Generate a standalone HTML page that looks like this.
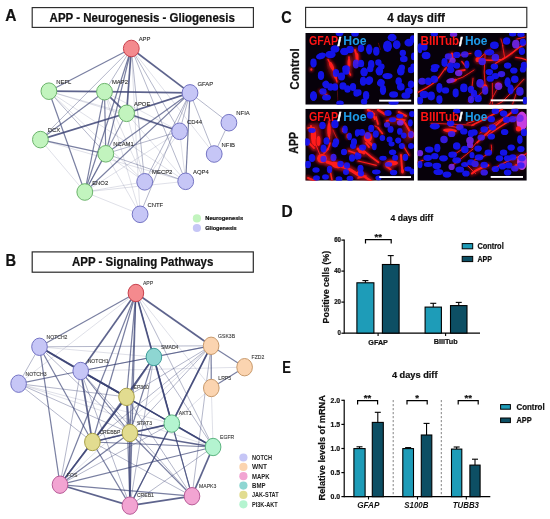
<!DOCTYPE html><html><head><meta charset="utf-8"><title>APP figure</title><style>html,body{margin:0;padding:0;background:#fff;}svg{display:block;}.bt{stroke:#111;stroke-width:0.22px;}</style></head><body>
<svg width="550" height="519" viewBox="0 0 550 519" font-family="'Liberation Sans', Arial, sans-serif">
<defs><filter id="bl" x="-5%" y="-5%" width="110%" height="110%"><feGaussianBlur stdDeviation="0.6"/></filter><filter id="glow" x="-10%" y="-10%" width="120%" height="120%"><feGaussianBlur stdDeviation="1.3"/></filter><filter id="haze" x="-20%" y="-20%" width="140%" height="140%"><feGaussianBlur stdDeviation="2.2"/></filter></defs>
<rect width="550" height="519" fill="#fff"/>
<text x="5.2" y="21.1" font-size="16" font-weight="bold" fill="#111" class="bt" textLength="11.2" lengthAdjust="spacingAndGlyphs">A</text>
<text x="5.6" y="265.7" font-size="16" font-weight="bold" fill="#111" class="bt" textLength="10.6" lengthAdjust="spacingAndGlyphs">B</text>
<text x="281.2" y="22.6" font-size="16.9" font-weight="bold" fill="#111" class="bt" textLength="10.4" lengthAdjust="spacingAndGlyphs">C</text>
<text x="281.4" y="217.2" font-size="16" font-weight="bold" fill="#111" class="bt" textLength="11.2" lengthAdjust="spacingAndGlyphs">D</text>
<text x="282.3" y="372.9" font-size="16" font-weight="bold" fill="#111" class="bt" textLength="8.6" lengthAdjust="spacingAndGlyphs">E</text>
<rect x="32.2" y="7.6" width="221.2" height="19.8" fill="#fff" stroke="#2a2a2a" stroke-width="1.15"/>
<text x="49.6" y="21.6" font-size="11.9" font-weight="bold" fill="#111" class="bt" stroke="#111" stroke-width="0.3" textLength="185.2" lengthAdjust="spacingAndGlyphs">APP - Neurogenesis - Gliogenesis</text>
<rect x="32.2" y="251.9" width="221.1" height="20.3" fill="#fff" stroke="#2a2a2a" stroke-width="1.2"/>
<text x="72" y="265.8" font-size="11.9" font-weight="bold" fill="#111" class="bt" stroke="#111" stroke-width="0.3" textLength="141.3" lengthAdjust="spacingAndGlyphs">APP - Signaling Pathways</text>
<rect x="305.6" y="7.4" width="221.2" height="20.1" fill="#fff" stroke="#2a2a2a" stroke-width="1.15"/>
<text x="387.2" y="21.8" font-size="12.2" font-weight="bold" fill="#111" class="bt" stroke="#111" stroke-width="0.3" textLength="57.8" lengthAdjust="spacingAndGlyphs">4 days diff</text>
<line x1="131.3" y1="48.5" x2="48.9" y2="91.2" stroke="#3a4274" stroke-width="1.2" stroke-opacity="0.68"/>
<line x1="131.3" y1="48.5" x2="104.5" y2="91.7" stroke="#3a4274" stroke-width="0.8" stroke-opacity="0.48"/>
<line x1="131.3" y1="48.5" x2="126.6" y2="113.3" stroke="#3a4274" stroke-width="1.7" stroke-opacity="0.82"/>
<line x1="131.3" y1="48.5" x2="190.0" y2="92.9" stroke="#3a4274" stroke-width="1.7" stroke-opacity="0.82"/>
<line x1="131.3" y1="48.5" x2="40.4" y2="139.6" stroke="#3a4274" stroke-width="0.8" stroke-opacity="0.48"/>
<line x1="131.3" y1="48.5" x2="105.8" y2="153.8" stroke="#3a4274" stroke-width="1.2" stroke-opacity="0.68"/>
<line x1="131.3" y1="48.5" x2="84.8" y2="192.0" stroke="#3a4274" stroke-width="1.2" stroke-opacity="0.68"/>
<line x1="131.3" y1="48.5" x2="140.1" y2="214.3" stroke="#3a4274" stroke-width="0.6" stroke-opacity="0.28"/>
<line x1="131.3" y1="48.5" x2="144.7" y2="181.8" stroke="#3a4274" stroke-width="0.8" stroke-opacity="0.48"/>
<line x1="131.3" y1="48.5" x2="185.7" y2="181.3" stroke="#3a4274" stroke-width="0.8" stroke-opacity="0.48"/>
<line x1="131.3" y1="48.5" x2="179.6" y2="131.3" stroke="#3a4274" stroke-width="0.8" stroke-opacity="0.48"/>
<line x1="131.3" y1="48.5" x2="214.2" y2="154.0" stroke="#3a4274" stroke-width="0.6" stroke-opacity="0.28"/>
<line x1="48.9" y1="91.2" x2="104.5" y2="91.7" stroke="#3a4274" stroke-width="1.7" stroke-opacity="0.82"/>
<line x1="48.9" y1="91.2" x2="84.8" y2="192.0" stroke="#3a4274" stroke-width="1.2" stroke-opacity="0.68"/>
<line x1="48.9" y1="91.2" x2="126.6" y2="113.3" stroke="#3a4274" stroke-width="0.6" stroke-opacity="0.28"/>
<line x1="48.9" y1="91.2" x2="105.8" y2="153.8" stroke="#3a4274" stroke-width="0.8" stroke-opacity="0.48"/>
<line x1="48.9" y1="91.2" x2="179.6" y2="131.3" stroke="#3a4274" stroke-width="0.6" stroke-opacity="0.28"/>
<line x1="48.9" y1="91.2" x2="185.7" y2="181.3" stroke="#3a4274" stroke-width="0.6" stroke-opacity="0.28"/>
<line x1="48.9" y1="91.2" x2="144.7" y2="181.8" stroke="#3a4274" stroke-width="0.6" stroke-opacity="0.28"/>
<line x1="104.5" y1="91.7" x2="190.0" y2="92.9" stroke="#3a4274" stroke-width="1.7" stroke-opacity="0.82"/>
<line x1="104.5" y1="91.7" x2="126.6" y2="113.3" stroke="#3a4274" stroke-width="1.7" stroke-opacity="0.82"/>
<line x1="104.5" y1="91.7" x2="105.8" y2="153.8" stroke="#3a4274" stroke-width="1.2" stroke-opacity="0.68"/>
<line x1="104.5" y1="91.7" x2="84.8" y2="192.0" stroke="#3a4274" stroke-width="1.2" stroke-opacity="0.68"/>
<line x1="104.5" y1="91.7" x2="40.4" y2="139.6" stroke="#3a4274" stroke-width="1.2" stroke-opacity="0.68"/>
<line x1="104.5" y1="91.7" x2="179.6" y2="131.3" stroke="#3a4274" stroke-width="0.6" stroke-opacity="0.28"/>
<line x1="104.5" y1="91.7" x2="144.7" y2="181.8" stroke="#3a4274" stroke-width="0.6" stroke-opacity="0.28"/>
<line x1="104.5" y1="91.7" x2="140.1" y2="214.3" stroke="#3a4274" stroke-width="0.6" stroke-opacity="0.28"/>
<line x1="126.6" y1="113.3" x2="190.0" y2="92.9" stroke="#3a4274" stroke-width="1.7" stroke-opacity="0.82"/>
<line x1="126.6" y1="113.3" x2="179.6" y2="131.3" stroke="#3a4274" stroke-width="1.7" stroke-opacity="0.82"/>
<line x1="126.6" y1="113.3" x2="40.4" y2="139.6" stroke="#3a4274" stroke-width="1.7" stroke-opacity="0.82"/>
<line x1="126.6" y1="113.3" x2="105.8" y2="153.8" stroke="#3a4274" stroke-width="0.8" stroke-opacity="0.48"/>
<line x1="126.6" y1="113.3" x2="84.8" y2="192.0" stroke="#3a4274" stroke-width="0.8" stroke-opacity="0.48"/>
<line x1="126.6" y1="113.3" x2="185.7" y2="181.3" stroke="#3a4274" stroke-width="0.6" stroke-opacity="0.28"/>
<line x1="126.6" y1="113.3" x2="144.7" y2="181.8" stroke="#3a4274" stroke-width="0.6" stroke-opacity="0.28"/>
<line x1="190.0" y1="92.9" x2="228.9" y2="122.7" stroke="#3a4274" stroke-width="0.8" stroke-opacity="0.48"/>
<line x1="190.0" y1="92.9" x2="214.2" y2="154.0" stroke="#3a4274" stroke-width="0.8" stroke-opacity="0.48"/>
<line x1="190.0" y1="92.9" x2="179.6" y2="131.3" stroke="#3a4274" stroke-width="0.8" stroke-opacity="0.48"/>
<line x1="190.0" y1="92.9" x2="185.7" y2="181.3" stroke="#3a4274" stroke-width="1.2" stroke-opacity="0.68"/>
<line x1="190.0" y1="92.9" x2="105.8" y2="153.8" stroke="#3a4274" stroke-width="1.2" stroke-opacity="0.68"/>
<line x1="190.0" y1="92.9" x2="84.8" y2="192.0" stroke="#3a4274" stroke-width="1.2" stroke-opacity="0.68"/>
<line x1="190.0" y1="92.9" x2="140.1" y2="214.3" stroke="#3a4274" stroke-width="0.8" stroke-opacity="0.48"/>
<line x1="190.0" y1="92.9" x2="144.7" y2="181.8" stroke="#3a4274" stroke-width="0.8" stroke-opacity="0.48"/>
<line x1="190.0" y1="92.9" x2="40.4" y2="139.6" stroke="#3a4274" stroke-width="0.6" stroke-opacity="0.28"/>
<line x1="228.9" y1="122.7" x2="214.2" y2="154.0" stroke="#3a4274" stroke-width="0.8" stroke-opacity="0.48"/>
<line x1="179.6" y1="131.3" x2="105.8" y2="153.8" stroke="#3a4274" stroke-width="0.8" stroke-opacity="0.48"/>
<line x1="179.6" y1="131.3" x2="84.8" y2="192.0" stroke="#3a4274" stroke-width="0.6" stroke-opacity="0.28"/>
<line x1="179.6" y1="131.3" x2="144.7" y2="181.8" stroke="#3a4274" stroke-width="0.6" stroke-opacity="0.28"/>
<line x1="179.6" y1="131.3" x2="185.7" y2="181.3" stroke="#3a4274" stroke-width="0.6" stroke-opacity="0.28"/>
<line x1="40.4" y1="139.6" x2="105.8" y2="153.8" stroke="#3a4274" stroke-width="1.2" stroke-opacity="0.68"/>
<line x1="40.4" y1="139.6" x2="84.8" y2="192.0" stroke="#3a4274" stroke-width="0.6" stroke-opacity="0.28"/>
<line x1="40.4" y1="139.6" x2="185.7" y2="181.3" stroke="#3a4274" stroke-width="0.6" stroke-opacity="0.28"/>
<line x1="105.8" y1="153.8" x2="84.8" y2="192.0" stroke="#3a4274" stroke-width="1.2" stroke-opacity="0.68"/>
<line x1="105.8" y1="153.8" x2="185.7" y2="181.3" stroke="#3a4274" stroke-width="0.8" stroke-opacity="0.48"/>
<line x1="105.8" y1="153.8" x2="144.7" y2="181.8" stroke="#3a4274" stroke-width="0.6" stroke-opacity="0.28"/>
<line x1="105.8" y1="153.8" x2="140.1" y2="214.3" stroke="#3a4274" stroke-width="0.6" stroke-opacity="0.28"/>
<line x1="84.8" y1="192.0" x2="185.7" y2="181.3" stroke="#3a4274" stroke-width="0.6" stroke-opacity="0.28"/>
<line x1="84.8" y1="192.0" x2="140.1" y2="214.3" stroke="#3a4274" stroke-width="0.6" stroke-opacity="0.28"/>
<line x1="84.8" y1="192.0" x2="144.7" y2="181.8" stroke="#3a4274" stroke-width="0.6" stroke-opacity="0.28"/>
<ellipse cx="131.3" cy="48.5" rx="7.9" ry="8.3" fill="#f48a8e" stroke="#c8404c" stroke-width="1"/>
<ellipse cx="48.9" cy="91.2" rx="7.9" ry="8.3" fill="#c2f4be" stroke="#6cb46c" stroke-width="1"/>
<ellipse cx="104.5" cy="91.7" rx="7.9" ry="8.3" fill="#c2f4be" stroke="#6cb46c" stroke-width="1"/>
<ellipse cx="126.6" cy="113.3" rx="7.9" ry="8.3" fill="#c2f4be" stroke="#6cb46c" stroke-width="1"/>
<ellipse cx="190.0" cy="92.9" rx="7.9" ry="8.3" fill="#c6c6f6" stroke="#7474c4" stroke-width="1"/>
<ellipse cx="228.9" cy="122.7" rx="7.9" ry="8.3" fill="#c6c6f6" stroke="#7474c4" stroke-width="1"/>
<ellipse cx="179.6" cy="131.3" rx="7.9" ry="8.3" fill="#c6c6f6" stroke="#7474c4" stroke-width="1"/>
<ellipse cx="40.4" cy="139.6" rx="7.9" ry="8.3" fill="#c2f4be" stroke="#6cb46c" stroke-width="1"/>
<ellipse cx="105.8" cy="153.8" rx="7.9" ry="8.3" fill="#c2f4be" stroke="#6cb46c" stroke-width="1"/>
<ellipse cx="214.2" cy="154.0" rx="7.9" ry="8.3" fill="#c6c6f6" stroke="#7474c4" stroke-width="1"/>
<ellipse cx="144.7" cy="181.8" rx="7.9" ry="8.3" fill="#c6c6f6" stroke="#7474c4" stroke-width="1"/>
<ellipse cx="185.7" cy="181.3" rx="7.9" ry="8.3" fill="#c6c6f6" stroke="#7474c4" stroke-width="1"/>
<ellipse cx="84.8" cy="192.0" rx="7.9" ry="8.3" fill="#c2f4be" stroke="#6cb46c" stroke-width="1"/>
<ellipse cx="140.1" cy="214.3" rx="7.9" ry="8.3" fill="#c6c6f6" stroke="#7474c4" stroke-width="1"/>
<text x="138.7" y="41.1" font-size="5.9" fill="#2e2e2e" stroke="#2e2e2e" stroke-width="0.1">APP</text>
<text x="56.3" y="83.8" font-size="5.9" fill="#2e2e2e" stroke="#2e2e2e" stroke-width="0.1">NEFL</text>
<text x="111.9" y="84.3" font-size="5.9" fill="#2e2e2e" stroke="#2e2e2e" stroke-width="0.1">MAP2</text>
<text x="134.0" y="105.9" font-size="5.9" fill="#2e2e2e" stroke="#2e2e2e" stroke-width="0.1">APOE</text>
<text x="197.4" y="85.5" font-size="5.9" fill="#2e2e2e" stroke="#2e2e2e" stroke-width="0.1">GFAP</text>
<text x="236.3" y="115.3" font-size="5.9" fill="#2e2e2e" stroke="#2e2e2e" stroke-width="0.1">NFIA</text>
<text x="187.0" y="123.9" font-size="5.9" fill="#2e2e2e" stroke="#2e2e2e" stroke-width="0.1">CD44</text>
<text x="47.8" y="132.2" font-size="5.9" fill="#2e2e2e" stroke="#2e2e2e" stroke-width="0.1">DCX</text>
<text x="113.2" y="146.4" font-size="5.9" fill="#2e2e2e" stroke="#2e2e2e" stroke-width="0.1">NCAM1</text>
<text x="221.6" y="146.6" font-size="5.9" fill="#2e2e2e" stroke="#2e2e2e" stroke-width="0.1">NFIB</text>
<text x="152.1" y="174.4" font-size="5.9" fill="#2e2e2e" stroke="#2e2e2e" stroke-width="0.1">MECP2</text>
<text x="193.1" y="173.9" font-size="5.9" fill="#2e2e2e" stroke="#2e2e2e" stroke-width="0.1">AQP4</text>
<text x="92.2" y="184.6" font-size="5.9" fill="#2e2e2e" stroke="#2e2e2e" stroke-width="0.1">ENO2</text>
<text x="147.5" y="206.9" font-size="5.9" fill="#2e2e2e" stroke="#2e2e2e" stroke-width="0.1">CNTF</text>
<circle cx="196.9" cy="218.4" r="4.1" fill="#c2f4be"/>
<circle cx="196.9" cy="228" r="4.1" fill="#c6c6f6"/>
<text x="205.3" y="220.4" font-size="5.8" font-weight="bold" fill="#111" class="bt" textLength="37.8" lengthAdjust="spacingAndGlyphs">Neurogenesis</text>
<text x="205.3" y="230" font-size="5.8" font-weight="bold" fill="#111" class="bt" textLength="31.4" lengthAdjust="spacingAndGlyphs">Gliogenesis</text>
<line x1="135.9" y1="293.0" x2="39.5" y2="346.8" stroke="#3a4274" stroke-width="1.2" stroke-opacity="0.68"/>
<line x1="135.9" y1="293.0" x2="80.7" y2="371.0" stroke="#3a4274" stroke-width="1.7" stroke-opacity="0.82"/>
<line x1="135.9" y1="293.0" x2="211.1" y2="345.8" stroke="#3a4274" stroke-width="1.7" stroke-opacity="0.82"/>
<line x1="135.9" y1="293.0" x2="153.9" y2="357.0" stroke="#3a4274" stroke-width="0.8" stroke-opacity="0.48"/>
<line x1="135.9" y1="293.0" x2="126.5" y2="396.9" stroke="#3a4274" stroke-width="1.2" stroke-opacity="0.68"/>
<line x1="135.9" y1="293.0" x2="129.9" y2="433.0" stroke="#3a4274" stroke-width="1.2" stroke-opacity="0.68"/>
<line x1="135.9" y1="293.0" x2="92.4" y2="442.0" stroke="#3a4274" stroke-width="1.2" stroke-opacity="0.68"/>
<line x1="135.9" y1="293.0" x2="171.8" y2="423.6" stroke="#3a4274" stroke-width="1.7" stroke-opacity="0.82"/>
<line x1="135.9" y1="293.0" x2="213.1" y2="447.0" stroke="#3a4274" stroke-width="0.8" stroke-opacity="0.48"/>
<line x1="135.9" y1="293.0" x2="60.0" y2="484.7" stroke="#3a4274" stroke-width="1.2" stroke-opacity="0.68"/>
<line x1="135.9" y1="293.0" x2="129.9" y2="505.6" stroke="#3a4274" stroke-width="1.2" stroke-opacity="0.68"/>
<line x1="135.9" y1="293.0" x2="192.0" y2="496.2" stroke="#3a4274" stroke-width="0.8" stroke-opacity="0.48"/>
<line x1="135.9" y1="293.0" x2="18.6" y2="383.7" stroke="#3a4274" stroke-width="0.6" stroke-opacity="0.28"/>
<line x1="135.9" y1="293.0" x2="211.3" y2="388.0" stroke="#3a4274" stroke-width="0.6" stroke-opacity="0.28"/>
<line x1="39.5" y1="346.8" x2="80.7" y2="371.0" stroke="#3a4274" stroke-width="1.7" stroke-opacity="0.82"/>
<line x1="39.5" y1="346.8" x2="18.6" y2="383.7" stroke="#3a4274" stroke-width="0.8" stroke-opacity="0.48"/>
<line x1="39.5" y1="346.8" x2="211.1" y2="345.8" stroke="#3a4274" stroke-width="0.8" stroke-opacity="0.48"/>
<line x1="39.5" y1="346.8" x2="126.5" y2="396.9" stroke="#3a4274" stroke-width="1.7" stroke-opacity="0.82"/>
<line x1="39.5" y1="346.8" x2="92.4" y2="442.0" stroke="#3a4274" stroke-width="1.2" stroke-opacity="0.68"/>
<line x1="39.5" y1="346.8" x2="60.0" y2="484.7" stroke="#3a4274" stroke-width="1.2" stroke-opacity="0.68"/>
<line x1="39.5" y1="346.8" x2="129.9" y2="433.0" stroke="#3a4274" stroke-width="0.8" stroke-opacity="0.48"/>
<line x1="39.5" y1="346.8" x2="171.8" y2="423.6" stroke="#3a4274" stroke-width="0.6" stroke-opacity="0.28"/>
<line x1="39.5" y1="346.8" x2="153.9" y2="357.0" stroke="#3a4274" stroke-width="0.6" stroke-opacity="0.28"/>
<line x1="80.7" y1="371.0" x2="211.1" y2="345.8" stroke="#3a4274" stroke-width="0.8" stroke-opacity="0.48"/>
<line x1="80.7" y1="371.0" x2="126.5" y2="396.9" stroke="#3a4274" stroke-width="1.7" stroke-opacity="0.82"/>
<line x1="80.7" y1="371.0" x2="92.4" y2="442.0" stroke="#3a4274" stroke-width="1.7" stroke-opacity="0.82"/>
<line x1="80.7" y1="371.0" x2="129.9" y2="433.0" stroke="#3a4274" stroke-width="1.2" stroke-opacity="0.68"/>
<line x1="80.7" y1="371.0" x2="171.8" y2="423.6" stroke="#3a4274" stroke-width="1.2" stroke-opacity="0.68"/>
<line x1="80.7" y1="371.0" x2="213.1" y2="447.0" stroke="#3a4274" stroke-width="1.2" stroke-opacity="0.68"/>
<line x1="80.7" y1="371.0" x2="18.6" y2="383.7" stroke="#3a4274" stroke-width="1.2" stroke-opacity="0.68"/>
<line x1="80.7" y1="371.0" x2="153.9" y2="357.0" stroke="#3a4274" stroke-width="1.2" stroke-opacity="0.68"/>
<line x1="80.7" y1="371.0" x2="60.0" y2="484.7" stroke="#3a4274" stroke-width="0.8" stroke-opacity="0.48"/>
<line x1="80.7" y1="371.0" x2="129.9" y2="505.6" stroke="#3a4274" stroke-width="0.8" stroke-opacity="0.48"/>
<line x1="80.7" y1="371.0" x2="192.0" y2="496.2" stroke="#3a4274" stroke-width="0.8" stroke-opacity="0.48"/>
<line x1="18.6" y1="383.7" x2="126.5" y2="396.9" stroke="#3a4274" stroke-width="0.8" stroke-opacity="0.48"/>
<line x1="18.6" y1="383.7" x2="92.4" y2="442.0" stroke="#3a4274" stroke-width="0.8" stroke-opacity="0.48"/>
<line x1="18.6" y1="383.7" x2="129.9" y2="433.0" stroke="#3a4274" stroke-width="0.8" stroke-opacity="0.48"/>
<line x1="18.6" y1="383.7" x2="171.8" y2="423.6" stroke="#3a4274" stroke-width="0.6" stroke-opacity="0.28"/>
<line x1="18.6" y1="383.7" x2="213.1" y2="447.0" stroke="#3a4274" stroke-width="0.6" stroke-opacity="0.28"/>
<line x1="211.1" y1="345.8" x2="244.6" y2="367.2" stroke="#3a4274" stroke-width="1.2" stroke-opacity="0.68"/>
<line x1="211.1" y1="345.8" x2="211.3" y2="388.0" stroke="#3a4274" stroke-width="1.2" stroke-opacity="0.68"/>
<line x1="211.1" y1="345.8" x2="171.8" y2="423.6" stroke="#3a4274" stroke-width="1.7" stroke-opacity="0.82"/>
<line x1="211.1" y1="345.8" x2="153.9" y2="357.0" stroke="#3a4274" stroke-width="1.2" stroke-opacity="0.68"/>
<line x1="211.1" y1="345.8" x2="126.5" y2="396.9" stroke="#3a4274" stroke-width="0.8" stroke-opacity="0.48"/>
<line x1="211.1" y1="345.8" x2="92.4" y2="442.0" stroke="#3a4274" stroke-width="0.8" stroke-opacity="0.48"/>
<line x1="211.1" y1="345.8" x2="129.9" y2="433.0" stroke="#3a4274" stroke-width="0.8" stroke-opacity="0.48"/>
<line x1="211.1" y1="345.8" x2="129.9" y2="505.6" stroke="#3a4274" stroke-width="1.2" stroke-opacity="0.68"/>
<line x1="211.1" y1="345.8" x2="192.0" y2="496.2" stroke="#3a4274" stroke-width="0.8" stroke-opacity="0.48"/>
<line x1="211.1" y1="345.8" x2="60.0" y2="484.7" stroke="#3a4274" stroke-width="0.6" stroke-opacity="0.28"/>
<line x1="244.6" y1="367.2" x2="211.3" y2="388.0" stroke="#3a4274" stroke-width="1.2" stroke-opacity="0.68"/>
<line x1="244.6" y1="367.2" x2="80.7" y2="371.0" stroke="#3a4274" stroke-width="0.6" stroke-opacity="0.28"/>
<line x1="211.3" y1="388.0" x2="213.1" y2="447.0" stroke="#3a4274" stroke-width="0.6" stroke-opacity="0.28"/>
<line x1="211.3" y1="388.0" x2="171.8" y2="423.6" stroke="#3a4274" stroke-width="0.6" stroke-opacity="0.28"/>
<line x1="153.9" y1="357.0" x2="126.5" y2="396.9" stroke="#3a4274" stroke-width="1.7" stroke-opacity="0.82"/>
<line x1="153.9" y1="357.0" x2="92.4" y2="442.0" stroke="#3a4274" stroke-width="1.2" stroke-opacity="0.68"/>
<line x1="153.9" y1="357.0" x2="129.9" y2="433.0" stroke="#3a4274" stroke-width="1.2" stroke-opacity="0.68"/>
<line x1="153.9" y1="357.0" x2="171.8" y2="423.6" stroke="#3a4274" stroke-width="1.2" stroke-opacity="0.68"/>
<line x1="153.9" y1="357.0" x2="60.0" y2="484.7" stroke="#3a4274" stroke-width="0.8" stroke-opacity="0.48"/>
<line x1="153.9" y1="357.0" x2="129.9" y2="505.6" stroke="#3a4274" stroke-width="0.8" stroke-opacity="0.48"/>
<line x1="153.9" y1="357.0" x2="192.0" y2="496.2" stroke="#3a4274" stroke-width="0.8" stroke-opacity="0.48"/>
<line x1="153.9" y1="357.0" x2="213.1" y2="447.0" stroke="#3a4274" stroke-width="0.8" stroke-opacity="0.48"/>
<line x1="126.5" y1="396.9" x2="92.4" y2="442.0" stroke="#3a4274" stroke-width="1.7" stroke-opacity="0.82"/>
<line x1="126.5" y1="396.9" x2="129.9" y2="433.0" stroke="#3a4274" stroke-width="1.7" stroke-opacity="0.82"/>
<line x1="126.5" y1="396.9" x2="171.8" y2="423.6" stroke="#3a4274" stroke-width="1.2" stroke-opacity="0.68"/>
<line x1="126.5" y1="396.9" x2="213.1" y2="447.0" stroke="#3a4274" stroke-width="1.2" stroke-opacity="0.68"/>
<line x1="126.5" y1="396.9" x2="60.0" y2="484.7" stroke="#3a4274" stroke-width="1.2" stroke-opacity="0.68"/>
<line x1="126.5" y1="396.9" x2="129.9" y2="505.6" stroke="#3a4274" stroke-width="1.2" stroke-opacity="0.68"/>
<line x1="126.5" y1="396.9" x2="192.0" y2="496.2" stroke="#3a4274" stroke-width="0.8" stroke-opacity="0.48"/>
<line x1="92.4" y1="442.0" x2="129.9" y2="433.0" stroke="#3a4274" stroke-width="1.7" stroke-opacity="0.82"/>
<line x1="92.4" y1="442.0" x2="60.0" y2="484.7" stroke="#3a4274" stroke-width="1.7" stroke-opacity="0.82"/>
<line x1="92.4" y1="442.0" x2="129.9" y2="505.6" stroke="#3a4274" stroke-width="1.2" stroke-opacity="0.68"/>
<line x1="92.4" y1="442.0" x2="171.8" y2="423.6" stroke="#3a4274" stroke-width="1.2" stroke-opacity="0.68"/>
<line x1="92.4" y1="442.0" x2="213.1" y2="447.0" stroke="#3a4274" stroke-width="1.2" stroke-opacity="0.68"/>
<line x1="92.4" y1="442.0" x2="192.0" y2="496.2" stroke="#3a4274" stroke-width="0.8" stroke-opacity="0.48"/>
<line x1="129.9" y1="433.0" x2="171.8" y2="423.6" stroke="#3a4274" stroke-width="1.7" stroke-opacity="0.82"/>
<line x1="129.9" y1="433.0" x2="213.1" y2="447.0" stroke="#3a4274" stroke-width="1.7" stroke-opacity="0.82"/>
<line x1="129.9" y1="433.0" x2="60.0" y2="484.7" stroke="#3a4274" stroke-width="1.2" stroke-opacity="0.68"/>
<line x1="129.9" y1="433.0" x2="129.9" y2="505.6" stroke="#3a4274" stroke-width="1.7" stroke-opacity="0.82"/>
<line x1="129.9" y1="433.0" x2="192.0" y2="496.2" stroke="#3a4274" stroke-width="1.2" stroke-opacity="0.68"/>
<line x1="171.8" y1="423.6" x2="213.1" y2="447.0" stroke="#3a4274" stroke-width="1.7" stroke-opacity="0.82"/>
<line x1="171.8" y1="423.6" x2="192.0" y2="496.2" stroke="#3a4274" stroke-width="1.2" stroke-opacity="0.68"/>
<line x1="171.8" y1="423.6" x2="129.9" y2="505.6" stroke="#3a4274" stroke-width="1.2" stroke-opacity="0.68"/>
<line x1="171.8" y1="423.6" x2="60.0" y2="484.7" stroke="#3a4274" stroke-width="0.8" stroke-opacity="0.48"/>
<line x1="213.1" y1="447.0" x2="192.0" y2="496.2" stroke="#3a4274" stroke-width="1.7" stroke-opacity="0.82"/>
<line x1="213.1" y1="447.0" x2="60.0" y2="484.7" stroke="#3a4274" stroke-width="1.2" stroke-opacity="0.68"/>
<line x1="213.1" y1="447.0" x2="129.9" y2="505.6" stroke="#3a4274" stroke-width="0.8" stroke-opacity="0.48"/>
<line x1="60.0" y1="484.7" x2="129.9" y2="505.6" stroke="#3a4274" stroke-width="1.7" stroke-opacity="0.82"/>
<line x1="60.0" y1="484.7" x2="192.0" y2="496.2" stroke="#3a4274" stroke-width="1.2" stroke-opacity="0.68"/>
<line x1="129.9" y1="505.6" x2="192.0" y2="496.2" stroke="#3a4274" stroke-width="1.7" stroke-opacity="0.82"/>
<ellipse cx="135.9" cy="293.0" rx="7.8" ry="8.7" fill="#f48a8e" stroke="#c8404c" stroke-width="1"/>
<ellipse cx="39.5" cy="346.8" rx="7.8" ry="8.7" fill="#c6c6f6" stroke="#7474c4" stroke-width="1"/>
<ellipse cx="211.1" cy="345.8" rx="7.8" ry="8.7" fill="#fbd4b0" stroke="#c89a6c" stroke-width="1"/>
<ellipse cx="153.9" cy="357.0" rx="7.8" ry="8.7" fill="#8ed6d2" stroke="#3e9c98" stroke-width="1"/>
<ellipse cx="244.6" cy="367.2" rx="7.8" ry="8.7" fill="#fbd4b0" stroke="#c89a6c" stroke-width="1"/>
<ellipse cx="80.7" cy="371.0" rx="7.8" ry="8.7" fill="#c6c6f6" stroke="#7474c4" stroke-width="1"/>
<ellipse cx="18.6" cy="383.7" rx="7.8" ry="8.7" fill="#c6c6f6" stroke="#7474c4" stroke-width="1"/>
<ellipse cx="211.3" cy="388.0" rx="7.8" ry="8.7" fill="#fbd4b0" stroke="#c89a6c" stroke-width="1"/>
<ellipse cx="126.5" cy="396.9" rx="7.8" ry="8.7" fill="#e2dc90" stroke="#a8a048" stroke-width="1"/>
<ellipse cx="171.8" cy="423.6" rx="7.8" ry="8.7" fill="#b4f4d0" stroke="#5cb480" stroke-width="1"/>
<ellipse cx="129.9" cy="433.0" rx="7.8" ry="8.7" fill="#e2dc90" stroke="#a8a048" stroke-width="1"/>
<ellipse cx="92.4" cy="442.0" rx="7.8" ry="8.7" fill="#e2dc90" stroke="#a8a048" stroke-width="1"/>
<ellipse cx="213.1" cy="447.0" rx="7.8" ry="8.7" fill="#b4f4d0" stroke="#5cb480" stroke-width="1"/>
<ellipse cx="60.0" cy="484.7" rx="7.8" ry="8.7" fill="#f2a4d2" stroke="#b85c98" stroke-width="1"/>
<ellipse cx="192.0" cy="496.2" rx="7.8" ry="8.7" fill="#f2a4d2" stroke="#b85c98" stroke-width="1"/>
<ellipse cx="129.9" cy="505.6" rx="7.8" ry="8.7" fill="#f2a4d2" stroke="#b85c98" stroke-width="1"/>
<text x="142.9" y="284.8" font-size="5.1" fill="#3a3a3a" stroke="#3a3a3a" stroke-width="0.1">APP</text>
<text x="46.5" y="338.6" font-size="5.1" fill="#3a3a3a" stroke="#3a3a3a" stroke-width="0.1">NOTCH2</text>
<text x="218.1" y="337.6" font-size="5.1" fill="#3a3a3a" stroke="#3a3a3a" stroke-width="0.1">GSK3B</text>
<text x="160.9" y="348.8" font-size="5.1" fill="#3a3a3a" stroke="#3a3a3a" stroke-width="0.1">SMAD4</text>
<text x="251.6" y="359.0" font-size="5.1" fill="#3a3a3a" stroke="#3a3a3a" stroke-width="0.1">FZD2</text>
<text x="87.7" y="362.8" font-size="5.1" fill="#3a3a3a" stroke="#3a3a3a" stroke-width="0.1">NOTCH1</text>
<text x="25.6" y="375.5" font-size="5.1" fill="#3a3a3a" stroke="#3a3a3a" stroke-width="0.1">NOTCH3</text>
<text x="218.3" y="379.8" font-size="5.1" fill="#3a3a3a" stroke="#3a3a3a" stroke-width="0.1">LRP5</text>
<text x="133.5" y="388.7" font-size="5.1" fill="#3a3a3a" stroke="#3a3a3a" stroke-width="0.1">EP300</text>
<text x="178.8" y="415.4" font-size="5.1" fill="#3a3a3a" stroke="#3a3a3a" stroke-width="0.1">AKT1</text>
<text x="136.9" y="424.8" font-size="5.1" fill="#3a3a3a" stroke="#3a3a3a" stroke-width="0.1">STAT3</text>
<text x="99.4" y="433.8" font-size="5.1" fill="#3a3a3a" stroke="#3a3a3a" stroke-width="0.1">CREBBP</text>
<text x="220.1" y="438.8" font-size="5.1" fill="#3a3a3a" stroke="#3a3a3a" stroke-width="0.1">EGFR</text>
<text x="67.0" y="476.5" font-size="5.1" fill="#3a3a3a" stroke="#3a3a3a" stroke-width="0.1">FOS</text>
<text x="199.0" y="488.0" font-size="5.1" fill="#3a3a3a" stroke="#3a3a3a" stroke-width="0.1">MAPK3</text>
<text x="136.9" y="497.4" font-size="5.1" fill="#3a3a3a" stroke="#3a3a3a" stroke-width="0.1">CREB1</text>
<circle cx="243.4" cy="457.5" r="4.1" fill="#c6c6f6"/>
<text x="252" y="459.9" font-size="6.8" font-weight="bold" fill="#222" textLength="20" lengthAdjust="spacingAndGlyphs">NOTCH</text>
<circle cx="243.4" cy="466.9" r="4.1" fill="#fbd4b0"/>
<text x="252" y="469.3" font-size="6.8" font-weight="bold" fill="#222" textLength="15" lengthAdjust="spacingAndGlyphs">WNT</text>
<circle cx="243.4" cy="476.2" r="4.1" fill="#f2a4d2"/>
<text x="252" y="478.6" font-size="6.8" font-weight="bold" fill="#222" textLength="17.5" lengthAdjust="spacingAndGlyphs">MAPK</text>
<circle cx="243.4" cy="485.6" r="4.1" fill="#8ed6d2"/>
<text x="252" y="488.0" font-size="6.8" font-weight="bold" fill="#222" textLength="13.5" lengthAdjust="spacingAndGlyphs">BMP</text>
<circle cx="243.4" cy="494.9" r="4.1" fill="#e2dc90"/>
<text x="252" y="497.3" font-size="6.8" font-weight="bold" fill="#222" textLength="26.6" lengthAdjust="spacingAndGlyphs">JAK-STAT</text>
<circle cx="243.4" cy="504.3" r="4.1" fill="#b4f4d0"/>
<text x="252" y="506.7" font-size="6.8" font-weight="bold" fill="#222" textLength="25.7" lengthAdjust="spacingAndGlyphs">PI3K-AKT</text>
<defs>
</defs>
<clipPath id="ctl"><rect x="305.3" y="32.9" width="108.7" height="71.8"/></clipPath>
<g clip-path="url(#ctl)">
<rect x="305.3" y="32.9" width="108.7" height="71.8" fill="#07010a"/>
<g filter="url(#haze)">
<ellipse cx="332" cy="70" rx="4" ry="10" transform="rotate(-20 332 70)" fill="#c0141c" opacity="0.5"/>
<ellipse cx="350" cy="65" rx="3" ry="8" transform="rotate(0 350 65)" fill="#c0141c" opacity="0.45"/>
<ellipse cx="356" cy="57" rx="3" ry="7" transform="rotate(0 356 57)" fill="#c0141c" opacity="0.45"/>
<ellipse cx="323" cy="93" rx="4" ry="3" transform="rotate(0 323 93)" fill="#c0141c" opacity="0.4"/>
</g>
<g filter="url(#glow)" opacity="0.6">
<path d="M328,59.5 Q331,65 333,70 Q335.5,76 337,82" stroke="#b8121c" stroke-width="4.3" fill="none" stroke-linecap="round"/>
<ellipse cx="331.5" cy="66" rx="3.3" ry="6.0" transform="rotate(-25 331.5 66)" fill="#b8121c"/>
<ellipse cx="335" cy="76" rx="2.9" ry="5.0" transform="rotate(-20 335 76)" fill="#b8121c"/>
<path d="M349,57 Q349.3,63 348.5,70 Q349,73 350.5,75" stroke="#b8121c" stroke-width="4.7" fill="none" stroke-linecap="round"/>
<ellipse cx="349" cy="63" rx="3.0" ry="5.5" transform="rotate(0 349 63)" fill="#b8121c"/>
<path d="M355,50 Q357,56 358,63" stroke="#b8121c" stroke-width="5.6" fill="none" stroke-linecap="round"/>
<ellipse cx="357" cy="57" rx="3.0" ry="5.5" transform="rotate(0 357 57)" fill="#b8121c"/>
<ellipse cx="311.3" cy="69.5" rx="2.5" ry="2.8" transform="rotate(0 311.3 69.5)" fill="#b8121c"/>
<path d="M320,91 Q324,93 327,95" stroke="#b8121c" stroke-width="4.1" fill="none" stroke-linecap="round"/>
</g>
<g filter="url(#bl)">
<path d="M328,59.5 Q331,65 333,70 Q335.5,76 337,82" stroke="#ff1c1c" stroke-width="1.4" fill="none" stroke-linecap="round"/>
<ellipse cx="331.5" cy="66" rx="1.8" ry="4.5" transform="rotate(-25 331.5 66)" fill="#ff1c1c"/>
<ellipse cx="335" cy="76" rx="1.4" ry="3.5" transform="rotate(-20 335 76)" fill="#ff1c1c"/>
<path d="M349,57 Q349.3,63 348.5,70 Q349,73 350.5,75" stroke="#ff1c1c" stroke-width="1.6" fill="none" stroke-linecap="round"/>
<ellipse cx="349" cy="63" rx="1.5" ry="4" transform="rotate(0 349 63)" fill="#ff1c1c"/>
<path d="M355,50 Q357,56 358,63" stroke="#ff1c1c" stroke-width="2.0" fill="none" stroke-linecap="round"/>
<ellipse cx="357" cy="57" rx="1.5" ry="4" transform="rotate(0 357 57)" fill="#ff1c1c"/>
<ellipse cx="311.3" cy="69.5" rx="1" ry="1.3" transform="rotate(0 311.3 69.5)" fill="#ff1c1c"/>
<path d="M320,91 Q324,93 327,95" stroke="#ff1c1c" stroke-width="1.3" fill="none" stroke-linecap="round"/>
<path d="M337,82 L338,105" stroke="#6a0c18" stroke-width="0.7" fill="none" stroke-linecap="round"/>
<path d="M378.4,43.2 L380.4,49.3" stroke="#5a0a14" stroke-width="0.9" fill="none" stroke-linecap="round"/>
</g>
<g filter="url(#bl)" opacity="0.9">
<ellipse cx="339.5" cy="33.5" rx="3.84" ry="2.56" transform="rotate(0 339.5 33.5)" fill="#1616ff"/>
<ellipse cx="355" cy="34" rx="3.84" ry="2.56" transform="rotate(0 355 34)" fill="#1616ff"/>
<ellipse cx="335" cy="49" rx="4.48" ry="3.84" transform="rotate(0 335 49)" fill="#1616ff"/>
<ellipse cx="344.5" cy="51.5" rx="4.48" ry="3.84" transform="rotate(0 344.5 51.5)" fill="#1616ff"/>
<ellipse cx="350" cy="49.5" rx="3.84" ry="3.84" transform="rotate(0 350 49.5)" fill="#1616ff"/>
<ellipse cx="321" cy="56" rx="5.12" ry="3.2" transform="rotate(-20 321 56)" fill="#1616ff"/>
<ellipse cx="330.5" cy="54.5" rx="5.12" ry="3.84" transform="rotate(0 330.5 54.5)" fill="#1616ff"/>
<ellipse cx="313.5" cy="63" rx="3.2" ry="4.48" transform="rotate(0 313.5 63)" fill="#1616ff"/>
<ellipse cx="356" cy="64" rx="3.2" ry="4.48" transform="rotate(0 356 64)" fill="#3a1ef6"/>
<ellipse cx="346" cy="68.5" rx="3.84" ry="3.2" transform="rotate(0 346 68.5)" fill="#1616ff"/>
<ellipse cx="321" cy="75.5" rx="3.2" ry="4.48" transform="rotate(0 321 75.5)" fill="#1616ff"/>
<ellipse cx="326" cy="84.5" rx="3.58" ry="3.84" transform="rotate(-30 326 84.5)" fill="#1616ff"/>
<ellipse cx="330.5" cy="87" rx="3.2" ry="3.84" transform="rotate(0 330.5 87)" fill="#1616ff"/>
<ellipse cx="335" cy="87" rx="3.2" ry="3.84" transform="rotate(0 335 87)" fill="#1616ff"/>
<ellipse cx="336" cy="73" rx="3.2" ry="4.1" transform="rotate(0 336 73)" fill="#1616ff"/>
<ellipse cx="341.5" cy="76.5" rx="3.58" ry="4.1" transform="rotate(0 341.5 76.5)" fill="#1616ff"/>
<ellipse cx="346" cy="71" rx="3.58" ry="3.84" transform="rotate(0 346 71)" fill="#1616ff"/>
<ellipse cx="343" cy="86" rx="3.58" ry="3.84" transform="rotate(0 343 86)" fill="#1616ff"/>
<ellipse cx="347.5" cy="89" rx="3.2" ry="3.84" transform="rotate(0 347.5 89)" fill="#1616ff"/>
<ellipse cx="353" cy="87" rx="3.2" ry="4.1" transform="rotate(0 353 87)" fill="#1616ff"/>
<ellipse cx="356.5" cy="93" rx="3.2" ry="3.84" transform="rotate(0 356.5 93)" fill="#1616ff"/>
<ellipse cx="323" cy="91.5" rx="3.58" ry="3.2" transform="rotate(0 323 91.5)" fill="#1616ff"/>
<ellipse cx="313.5" cy="96" rx="3.58" ry="5.12" transform="rotate(0 313.5 96)" fill="#1616ff"/>
<ellipse cx="326.5" cy="97.5" rx="4.48" ry="2.94" transform="rotate(0 326.5 97.5)" fill="#1616ff"/>
<ellipse cx="340" cy="103" rx="3.84" ry="2.56" transform="rotate(0 340 103)" fill="#1616ff"/>
<ellipse cx="392.1" cy="37.6" rx="4.48" ry="3.84" transform="rotate(0 392.1 37.6)" fill="#1616ff"/>
<ellipse cx="387.5" cy="46.2" rx="4.48" ry="5.76" transform="rotate(0 387.5 46.2)" fill="#1616ff"/>
<ellipse cx="396.7" cy="44.7" rx="3.84" ry="4.48" transform="rotate(0 396.7 44.7)" fill="#1616ff"/>
<ellipse cx="408.9" cy="42.7" rx="4.48" ry="3.84" transform="rotate(0 408.9 42.7)" fill="#1616ff"/>
<ellipse cx="413" cy="39" rx="3.2" ry="3.84" transform="rotate(0 413 39)" fill="#1616ff"/>
<ellipse cx="361" cy="48.3" rx="3.2" ry="3.84" transform="rotate(0 361 48.3)" fill="#1616ff"/>
<ellipse cx="369.2" cy="49.3" rx="3.2" ry="5.12" transform="rotate(0 369.2 49.3)" fill="#1616ff"/>
<ellipse cx="376.3" cy="51.3" rx="3.2" ry="4.48" transform="rotate(0 376.3 51.3)" fill="#1616ff"/>
<ellipse cx="402.8" cy="52.9" rx="3.2" ry="3.2" transform="rotate(0 402.8 52.9)" fill="#1616ff"/>
<ellipse cx="403.8" cy="59" rx="3.84" ry="3.2" transform="rotate(0 403.8 59)" fill="#1616ff"/>
<ellipse cx="413.5" cy="56.4" rx="2.56" ry="3.84" transform="rotate(0 413.5 56.4)" fill="#1616ff"/>
<ellipse cx="361" cy="63.5" rx="3.2" ry="3.84" transform="rotate(0 361 63.5)" fill="#1616ff"/>
<ellipse cx="371.2" cy="64.6" rx="3.2" ry="4.48" transform="rotate(0 371.2 64.6)" fill="#1616ff"/>
<ellipse cx="378.4" cy="62.5" rx="3.2" ry="3.2" transform="rotate(0 378.4 62.5)" fill="#1616ff"/>
<ellipse cx="381.4" cy="66.6" rx="3.2" ry="3.2" transform="rotate(0 381.4 66.6)" fill="#1616ff"/>
<ellipse cx="401.8" cy="67.6" rx="3.2" ry="3.2" transform="rotate(0 401.8 67.6)" fill="#1616ff"/>
<ellipse cx="413" cy="66.6" rx="2.56" ry="3.2" transform="rotate(0 413 66.6)" fill="#1616ff"/>
<ellipse cx="364.1" cy="72.1" rx="3.84" ry="4.48" transform="rotate(0 364.1 72.1)" fill="#1616ff"/>
<ellipse cx="370.2" cy="69" rx="3.2" ry="3.2" transform="rotate(0 370.2 69)" fill="#1616ff"/>
<ellipse cx="379.4" cy="71.1" rx="3.84" ry="4.48" transform="rotate(0 379.4 71.1)" fill="#1616ff"/>
<ellipse cx="387.5" cy="76.1" rx="5.12" ry="3.2" transform="rotate(0 387.5 76.1)" fill="#1616ff"/>
<ellipse cx="400.8" cy="71.1" rx="3.84" ry="4.48" transform="rotate(0 400.8 71.1)" fill="#1616ff"/>
<ellipse cx="411" cy="70" rx="3.2" ry="3.2" transform="rotate(0 411 70)" fill="#1616ff"/>
<ellipse cx="363.1" cy="81.2" rx="3.2" ry="4.48" transform="rotate(0 363.1 81.2)" fill="#1616ff"/>
<ellipse cx="369.2" cy="80.7" rx="3.84" ry="4.48" transform="rotate(30 369.2 80.7)" fill="#1616ff"/>
<ellipse cx="380.9" cy="82.8" rx="3.84" ry="3.84" transform="rotate(30 380.9 82.8)" fill="#1616ff"/>
<ellipse cx="398.7" cy="81.2" rx="3.2" ry="3.84" transform="rotate(0 398.7 81.2)" fill="#1616ff"/>
<ellipse cx="411" cy="84.3" rx="3.2" ry="3.84" transform="rotate(0 411 84.3)" fill="#1616ff"/>
<ellipse cx="383" cy="89.9" rx="3.2" ry="5.12" transform="rotate(0 383 89.9)" fill="#1616ff"/>
<ellipse cx="400.8" cy="86.8" rx="3.84" ry="3.84" transform="rotate(0 400.8 86.8)" fill="#1616ff"/>
<ellipse cx="408.9" cy="90.9" rx="3.84" ry="3.2" transform="rotate(0 408.9 90.9)" fill="#1616ff"/>
<ellipse cx="366.1" cy="95.5" rx="3.2" ry="4.48" transform="rotate(0 366.1 95.5)" fill="#1616ff"/>
<ellipse cx="359" cy="92.4" rx="2.56" ry="3.2" transform="rotate(0 359 92.4)" fill="#1616ff"/>
<ellipse cx="393.6" cy="94.5" rx="4.48" ry="3.2" transform="rotate(0 393.6 94.5)" fill="#1616ff"/>
<ellipse cx="405.9" cy="95.5" rx="4.48" ry="3.2" transform="rotate(0 405.9 95.5)" fill="#1616ff"/>
<ellipse cx="364.1" cy="101.6" rx="3.2" ry="3.2" transform="rotate(0 364.1 101.6)" fill="#1616ff"/>
<ellipse cx="393.6" cy="102.6" rx="5.12" ry="2.56" transform="rotate(0 393.6 102.6)" fill="#1616ff"/>
</g>
<text x="309.0" y="44.7" font-size="12.1" font-weight="bold" fill="#ff1414" textLength="29.0" lengthAdjust="spacingAndGlyphs">GFAP</text>
<text x="337.6" y="45.5" font-size="13.2" font-weight="bold" fill="#ffffff" stroke="#ffffff" stroke-width="0.5">/</text>
<text x="343.3" y="44.7" font-size="12.1" font-weight="bold" fill="#1e9ae8" textLength="23.2" lengthAdjust="spacingAndGlyphs">Hoe</text>
<rect x="379.1" y="99.69999999999999" width="32.1" height="1.9" fill="#fff"/>
</g>
<clipPath id="ctr"><rect x="417.4" y="32.9" width="109.4" height="71.9"/></clipPath>
<g clip-path="url(#ctr)">
<rect x="417.4" y="32.9" width="109.4" height="71.9" fill="#07010a"/>
<g filter="url(#haze)">
<ellipse cx="500" cy="56" rx="14" ry="5" transform="rotate(-15 500 56)" fill="#c0141c" opacity="0.35"/>
<ellipse cx="479" cy="60" rx="4" ry="4" transform="rotate(0 479 60)" fill="#c0141c" opacity="0.5"/>
<ellipse cx="484" cy="86" rx="4" ry="3" transform="rotate(0 484 86)" fill="#c0141c" opacity="0.4"/>
<ellipse cx="498" cy="85" rx="3" ry="3" transform="rotate(0 498 85)" fill="#c0141c" opacity="0.4"/>
<ellipse cx="452" cy="57" rx="3" ry="4" transform="rotate(0 452 57)" fill="#c0141c" opacity="0.4"/>
</g>
<g filter="url(#glow)" opacity="0.4">
<ellipse cx="452" cy="56" rx="3.1" ry="5.0" transform="rotate(0 452 56)" fill="#b8121c"/>
<path d="M451.6,58 Q448,64 445.5,70" stroke="#b8121c" stroke-width="3.2" fill="none" stroke-linecap="round"/>
<path d="M458.7,55.4 Q465,54.5 471,53.4" stroke="#b8121c" stroke-width="3.4" fill="none" stroke-linecap="round"/>
<path d="M461.8,61.5 L465.9,66.6" stroke="#b8121c" stroke-width="3.8" fill="none" stroke-linecap="round"/>
<path d="M418,92.4 Q427,88 433.3,83.3 Q440,77 445.5,68" stroke="#b8121c" stroke-width="3.8" fill="none" stroke-linecap="round"/>
<path d="M451.6,81.2 Q458,79 462.8,77.2 Q468,74 474,70" stroke="#b8121c" stroke-width="3.2" fill="none" stroke-linecap="round"/>
<ellipse cx="454" cy="80.5" rx="4.5" ry="3.1" transform="rotate(-15 454 80.5)" fill="#b8121c"/>
<path d="M458.7,71 L464.8,70" stroke="#b8121c" stroke-width="5.2" fill="none" stroke-linecap="round"/>
<path d="M469,101.6 L474,94.5" stroke="#b8121c" stroke-width="3.4" fill="none" stroke-linecap="round"/>
<ellipse cx="478.1" cy="59.5" rx="4.1" ry="4.1" transform="rotate(0 478.1 59.5)" fill="#b8121c"/>
<path d="M478.1,59.5 Q484,54 490.3,49.3" stroke="#b8121c" stroke-width="3.4" fill="none" stroke-linecap="round"/>
<path d="M478.1,59.5 Q490,61 502.5,59.5 Q510,55 517.8,48.3 Q521,46 525,44.2" stroke="#b8121c" stroke-width="4.7" fill="none" stroke-linecap="round"/>
<path d="M495.4,63.5 Q500,61 504,58" stroke="#b8121c" stroke-width="4.1" fill="none" stroke-linecap="round"/>
<path d="M504.6,57.4 L502.5,45.2" stroke="#b8121c" stroke-width="3.2" fill="none" stroke-linecap="round"/>
<path d="M515.8,57.4 Q522,58 528,60.5" stroke="#b8121c" stroke-width="4.1" fill="none" stroke-linecap="round"/>
<path d="M516.8,39.1 L525,37" stroke="#b8121c" stroke-width="3.2" fill="none" stroke-linecap="round"/>
<path d="M501,39 L503,46" stroke="#b8121c" stroke-width="3.0" fill="none" stroke-linecap="round"/>
<path d="M485.2,53.4 Q484.5,65 484.2,72 L485.2,86.3" stroke="#b8121c" stroke-width="3.2" fill="none" stroke-linecap="round"/>
<path d="M473,78.2 Q471.5,87 472,95.5" stroke="#b8121c" stroke-width="3.2" fill="none" stroke-linecap="round"/>
<ellipse cx="484.3" cy="86.3" rx="4.5" ry="3.5" transform="rotate(0 484.3 86.3)" fill="#b8121c"/>
<ellipse cx="498" cy="84" rx="4.0" ry="3.1" transform="rotate(0 498 84)" fill="#b8121c"/>
<path d="M492.4,83.3 Q492.5,95 492.4,105" stroke="#b8121c" stroke-width="3.0" fill="none" stroke-linecap="round"/>
<path d="M496.4,90.4 Q492,98 489.3,105" stroke="#b8121c" stroke-width="3.0" fill="none" stroke-linecap="round"/>
<path d="M524,79.2 Q512,92 502.5,101.6 Q498,104 494.4,106" stroke="#b8121c" stroke-width="3.4" fill="none" stroke-linecap="round"/>
<path d="M476,98 Q482,92 487,88" stroke="#b8121c" stroke-width="3.0" fill="none" stroke-linecap="round"/>
<path d="M516,94 Q514,100 512,106" stroke="#b8121c" stroke-width="3.0" fill="none" stroke-linecap="round"/>
</g>
<g filter="url(#bl)">
<ellipse cx="452" cy="56" rx="1.6" ry="3.5" transform="rotate(0 452 56)" fill="#ff1c1c"/>
<path d="M451.6,58 Q448,64 445.5,70" stroke="#ff1c1c" stroke-width="0.9" fill="none" stroke-linecap="round"/>
<path d="M458.7,55.4 Q465,54.5 471,53.4" stroke="#ff1c1c" stroke-width="1.0" fill="none" stroke-linecap="round"/>
<path d="M461.8,61.5 L465.9,66.6" stroke="#ff1c1c" stroke-width="1.2" fill="none" stroke-linecap="round"/>
<path d="M418,92.4 Q427,88 433.3,83.3 Q440,77 445.5,68" stroke="#ff1c1c" stroke-width="1.2" fill="none" stroke-linecap="round"/>
<path d="M451.6,81.2 Q458,79 462.8,77.2 Q468,74 474,70" stroke="#ff1c1c" stroke-width="0.9" fill="none" stroke-linecap="round"/>
<ellipse cx="454" cy="80.5" rx="3" ry="1.6" transform="rotate(-15 454 80.5)" fill="#ff1c1c"/>
<path d="M458.7,71 L464.8,70" stroke="#ff1c1c" stroke-width="1.8" fill="none" stroke-linecap="round"/>
<path d="M469,101.6 L474,94.5" stroke="#ff1c1c" stroke-width="1.0" fill="none" stroke-linecap="round"/>
<ellipse cx="478.1" cy="59.5" rx="2.6" ry="2.6" transform="rotate(0 478.1 59.5)" fill="#ff1c1c"/>
<path d="M478.1,59.5 Q484,54 490.3,49.3" stroke="#ff1c1c" stroke-width="1.0" fill="none" stroke-linecap="round"/>
<path d="M478.1,59.5 Q490,61 502.5,59.5 Q510,55 517.8,48.3 Q521,46 525,44.2" stroke="#ff1c1c" stroke-width="1.6" fill="none" stroke-linecap="round"/>
<path d="M495.4,63.5 Q500,61 504,58" stroke="#ff1c1c" stroke-width="1.3" fill="none" stroke-linecap="round"/>
<path d="M504.6,57.4 L502.5,45.2" stroke="#ff1c1c" stroke-width="0.9" fill="none" stroke-linecap="round"/>
<path d="M515.8,57.4 Q522,58 528,60.5" stroke="#ff1c1c" stroke-width="1.3" fill="none" stroke-linecap="round"/>
<path d="M516.8,39.1 L525,37" stroke="#ff1c1c" stroke-width="0.9" fill="none" stroke-linecap="round"/>
<path d="M501,39 L503,46" stroke="#ff1c1c" stroke-width="0.8" fill="none" stroke-linecap="round"/>
<path d="M485.2,53.4 Q484.5,65 484.2,72 L485.2,86.3" stroke="#ff1c1c" stroke-width="0.9" fill="none" stroke-linecap="round"/>
<path d="M473,78.2 Q471.5,87 472,95.5" stroke="#ff1c1c" stroke-width="0.9" fill="none" stroke-linecap="round"/>
<ellipse cx="484.3" cy="86.3" rx="3" ry="2" transform="rotate(0 484.3 86.3)" fill="#ff1c1c"/>
<ellipse cx="498" cy="84" rx="2.5" ry="1.6" transform="rotate(0 498 84)" fill="#ff1c1c"/>
<path d="M492.4,83.3 Q492.5,95 492.4,105" stroke="#ff1c1c" stroke-width="0.8" fill="none" stroke-linecap="round"/>
<path d="M496.4,90.4 Q492,98 489.3,105" stroke="#ff1c1c" stroke-width="0.8" fill="none" stroke-linecap="round"/>
<path d="M524,79.2 Q512,92 502.5,101.6 Q498,104 494.4,106" stroke="#ff1c1c" stroke-width="1.0" fill="none" stroke-linecap="round"/>
<path d="M476,98 Q482,92 487,88" stroke="#ff1c1c" stroke-width="0.8" fill="none" stroke-linecap="round"/>
<path d="M516,94 Q514,100 512,106" stroke="#ff1c1c" stroke-width="0.8" fill="none" stroke-linecap="round"/>
</g>
<g filter="url(#bl)" opacity="0.9">
<ellipse cx="420" cy="48.3" rx="2.5" ry="5.0" transform="rotate(0 420 48.3)" fill="#1616ff"/>
<ellipse cx="424.5" cy="47" rx="3.12" ry="3.75" transform="rotate(0 424.5 47)" fill="#1616ff"/>
<ellipse cx="426.1" cy="55.4" rx="4.38" ry="3.75" transform="rotate(0 426.1 55.4)" fill="#1616ff"/>
<ellipse cx="448.5" cy="56.4" rx="3.75" ry="3.12" transform="rotate(0 448.5 56.4)" fill="#3a1ef6"/>
<ellipse cx="456.7" cy="54.9" rx="3.75" ry="3.12" transform="rotate(0 456.7 54.9)" fill="#1616ff"/>
<ellipse cx="464.8" cy="54.4" rx="3.75" ry="3.12" transform="rotate(0 464.8 54.4)" fill="#3a1ef6"/>
<ellipse cx="444.5" cy="62.5" rx="3.12" ry="4.38" transform="rotate(0 444.5 62.5)" fill="#1616ff"/>
<ellipse cx="452.6" cy="60.5" rx="3.12" ry="3.12" transform="rotate(0 452.6 60.5)" fill="#7428ec"/>
<ellipse cx="435.3" cy="66.6" rx="4.38" ry="2.5" transform="rotate(0 435.3 66.6)" fill="#1616ff"/>
<ellipse cx="450.6" cy="65.6" rx="3.5" ry="3.12" transform="rotate(0 450.6 65.6)" fill="#1616ff"/>
<ellipse cx="456.7" cy="65.6" rx="3.5" ry="3.12" transform="rotate(0 456.7 65.6)" fill="#1616ff"/>
<ellipse cx="466.9" cy="64.6" rx="2.5" ry="4.0" transform="rotate(0 466.9 64.6)" fill="#1616ff"/>
<ellipse cx="453.6" cy="34.5" rx="3.75" ry="2.5" transform="rotate(0 453.6 34.5)" fill="#7428ec"/>
<ellipse cx="434.3" cy="34" rx="3.75" ry="2.5" transform="rotate(0 434.3 34)" fill="#1616ff"/>
<ellipse cx="434.3" cy="69.5" rx="3.75" ry="2.75" transform="rotate(0 434.3 69.5)" fill="#1616ff"/>
<ellipse cx="422.1" cy="81.2" rx="3.75" ry="3.5" transform="rotate(0 422.1 81.2)" fill="#3a1ef6"/>
<ellipse cx="428.2" cy="81.2" rx="3.5" ry="3.75" transform="rotate(0 428.2 81.2)" fill="#1616ff"/>
<ellipse cx="434.3" cy="79.2" rx="3.75" ry="3.75" transform="rotate(0 434.3 79.2)" fill="#1616ff"/>
<ellipse cx="450.6" cy="70" rx="3.75" ry="3.12" transform="rotate(0 450.6 70)" fill="#1616ff"/>
<ellipse cx="458.7" cy="73.1" rx="3.75" ry="3.12" transform="rotate(0 458.7 73.1)" fill="#7428ec"/>
<ellipse cx="450.6" cy="80.7" rx="4.38" ry="2.5" transform="rotate(-15 450.6 80.7)" fill="#7428ec"/>
<ellipse cx="439.4" cy="87.9" rx="3.12" ry="5.0" transform="rotate(0 439.4 87.9)" fill="#1616ff"/>
<ellipse cx="445.5" cy="90.4" rx="3.75" ry="3.12" transform="rotate(0 445.5 90.4)" fill="#1616ff"/>
<ellipse cx="455.7" cy="93" rx="3.12" ry="4.38" transform="rotate(0 455.7 93)" fill="#1616ff"/>
<ellipse cx="463.8" cy="87.9" rx="3.75" ry="4.38" transform="rotate(0 463.8 87.9)" fill="#1616ff"/>
<ellipse cx="471" cy="89.4" rx="3.12" ry="3.75" transform="rotate(0 471 89.4)" fill="#1616ff"/>
<ellipse cx="424.1" cy="94.5" rx="4.38" ry="3.75" transform="rotate(0 424.1 94.5)" fill="#1616ff"/>
<ellipse cx="431.2" cy="96" rx="3.75" ry="4.38" transform="rotate(0 431.2 96)" fill="#1616ff"/>
<ellipse cx="439.4" cy="99.6" rx="3.12" ry="4.38" transform="rotate(0 439.4 99.6)" fill="#1616ff"/>
<ellipse cx="420" cy="100.6" rx="3.12" ry="3.75" transform="rotate(0 420 100.6)" fill="#1616ff"/>
<ellipse cx="471" cy="99.6" rx="3.12" ry="3.75" transform="rotate(0 471 99.6)" fill="#3a1ef6"/>
<ellipse cx="512.7" cy="34" rx="3.75" ry="2.5" transform="rotate(0 512.7 34)" fill="#1616ff"/>
<ellipse cx="520.9" cy="34.5" rx="3.75" ry="2.5" transform="rotate(0 520.9 34.5)" fill="#1616ff"/>
<ellipse cx="506.6" cy="41.1" rx="3.75" ry="3.75" transform="rotate(0 506.6 41.1)" fill="#1616ff"/>
<ellipse cx="494.4" cy="45.2" rx="4.38" ry="3.75" transform="rotate(0 494.4 45.2)" fill="#1616ff"/>
<ellipse cx="515.8" cy="44.2" rx="3.75" ry="4.38" transform="rotate(0 515.8 44.2)" fill="#7428ec"/>
<ellipse cx="522.9" cy="42.2" rx="3.12" ry="3.75" transform="rotate(0 522.9 42.2)" fill="#1616ff"/>
<ellipse cx="521.9" cy="51.3" rx="3.12" ry="3.75" transform="rotate(0 521.9 51.3)" fill="#1616ff"/>
<ellipse cx="478.1" cy="53.4" rx="3.75" ry="3.75" transform="rotate(0 478.1 53.4)" fill="#1616ff"/>
<ellipse cx="489.3" cy="52.3" rx="5.0" ry="3.12" transform="rotate(0 489.3 52.3)" fill="#1616ff"/>
<ellipse cx="482.2" cy="61.5" rx="3.75" ry="3.75" transform="rotate(0 482.2 61.5)" fill="#3a1ef6"/>
<ellipse cx="495.4" cy="57.4" rx="3.75" ry="3.75" transform="rotate(0 495.4 57.4)" fill="#3a1ef6"/>
<ellipse cx="494.4" cy="66.6" rx="3.75" ry="3.12" transform="rotate(0 494.4 66.6)" fill="#1616ff"/>
<ellipse cx="507.6" cy="65.6" rx="3.75" ry="3.12" transform="rotate(0 507.6 65.6)" fill="#1616ff"/>
<ellipse cx="523.9" cy="65.6" rx="3.12" ry="3.75" transform="rotate(0 523.9 65.6)" fill="#1616ff"/>
<ellipse cx="489.3" cy="72.1" rx="3.75" ry="3.12" transform="rotate(0 489.3 72.1)" fill="#1616ff"/>
<ellipse cx="495.4" cy="76.1" rx="3.75" ry="3.12" transform="rotate(0 495.4 76.1)" fill="#1616ff"/>
<ellipse cx="501.5" cy="74.1" rx="3.75" ry="3.12" transform="rotate(0 501.5 74.1)" fill="#3a1ef6"/>
<ellipse cx="490.3" cy="78.7" rx="3.75" ry="3.12" transform="rotate(0 490.3 78.7)" fill="#1616ff"/>
<ellipse cx="513.8" cy="70.5" rx="3.75" ry="3.12" transform="rotate(0 513.8 70.5)" fill="#1616ff"/>
<ellipse cx="522.9" cy="69.5" rx="3.12" ry="3.12" transform="rotate(0 522.9 69.5)" fill="#1616ff"/>
<ellipse cx="507.6" cy="82.3" rx="3.12" ry="5.0" transform="rotate(0 507.6 82.3)" fill="#1616ff"/>
<ellipse cx="514.8" cy="79.2" rx="3.75" ry="3.75" transform="rotate(0 514.8 79.2)" fill="#1616ff"/>
<ellipse cx="480.1" cy="83.3" rx="3.75" ry="4.38" transform="rotate(0 480.1 83.3)" fill="#3a1ef6"/>
<ellipse cx="485.2" cy="90.4" rx="3.12" ry="4.38" transform="rotate(0 485.2 90.4)" fill="#3a1ef6"/>
<ellipse cx="498.5" cy="86.3" rx="3.75" ry="3.75" transform="rotate(0 498.5 86.3)" fill="#7428ec"/>
<ellipse cx="510.7" cy="89.4" rx="3.12" ry="5.0" transform="rotate(0 510.7 89.4)" fill="#1616ff"/>
<ellipse cx="519.9" cy="91.4" rx="3.75" ry="4.38" transform="rotate(0 519.9 91.4)" fill="#3a1ef6"/>
<ellipse cx="474" cy="93.5" rx="3.12" ry="3.75" transform="rotate(0 474 93.5)" fill="#1616ff"/>
<ellipse cx="478.1" cy="98.6" rx="3.75" ry="3.75" transform="rotate(0 478.1 98.6)" fill="#1616ff"/>
<ellipse cx="525" cy="100.6" rx="2.5" ry="3.75" transform="rotate(0 525 100.6)" fill="#1616ff"/>
</g>
<text x="420.6" y="44.7" font-size="12.1" font-weight="bold" fill="#ff1414" textLength="38.6" lengthAdjust="spacingAndGlyphs">BIIITub</text>
<text x="459.0" y="45.5" font-size="13.2" font-weight="bold" fill="#ffffff" stroke="#ffffff" stroke-width="0.5">/</text>
<text x="464.9" y="44.7" font-size="12.1" font-weight="bold" fill="#1e9ae8" textLength="22.6" lengthAdjust="spacingAndGlyphs">Hoe</text>
<rect x="490.7" y="99.39999999999999" width="32.3" height="1.9" fill="#fff"/>
</g>
<clipPath id="cbl"><rect x="305.3" y="108.8" width="108.8" height="71.9"/></clipPath>
<g clip-path="url(#cbl)">
<rect x="305.3" y="108.8" width="108.8" height="71.9" fill="#07010a"/>
<g filter="url(#haze)">
<ellipse cx="315" cy="137" rx="6" ry="14" transform="rotate(5 315 137)" fill="#c0141c" opacity="0.75"/>
<ellipse cx="324" cy="158" rx="9" ry="6" transform="rotate(0 324 158)" fill="#c0141c" opacity="0.7"/>
<ellipse cx="340" cy="166" rx="12" ry="4" transform="rotate(20 340 166)" fill="#c0141c" opacity="0.6"/>
<ellipse cx="330" cy="132" rx="4" ry="10" transform="rotate(0 330 132)" fill="#c0141c" opacity="0.5"/>
<ellipse cx="368" cy="140" rx="5" ry="7" transform="rotate(30 368 140)" fill="#c0141c" opacity="0.6"/>
<ellipse cx="395" cy="121" rx="9" ry="4" transform="rotate(0 395 121)" fill="#c0141c" opacity="0.5"/>
<ellipse cx="406" cy="135" rx="4" ry="9" transform="rotate(-20 406 135)" fill="#c0141c" opacity="0.5"/>
<ellipse cx="390" cy="164" rx="8" ry="4" transform="rotate(0 390 164)" fill="#c0141c" opacity="0.55"/>
<ellipse cx="363" cy="176" rx="7" ry="4" transform="rotate(30 363 176)" fill="#c0141c" opacity="0.5"/>
<ellipse cx="352" cy="152" rx="6" ry="3" transform="rotate(20 352 152)" fill="#c0141c" opacity="0.4"/>
<ellipse cx="372" cy="114" rx="6" ry="4" transform="rotate(0 372 114)" fill="#c0141c" opacity="0.5"/>
</g>
<g filter="url(#glow)" opacity="0.6">
<ellipse cx="329" cy="130" rx="3.3" ry="9.0" transform="rotate(0 329 130)" fill="#b8121c"/>
<path d="M329,121 L329.5,139" stroke="#b8121c" stroke-width="3.8" fill="none" stroke-linecap="round"/>
<ellipse cx="313.5" cy="136" rx="4.1" ry="10.5" transform="rotate(0 313.5 136)" fill="#b8121c"/>
<ellipse cx="318.5" cy="141" rx="3.5" ry="6.5" transform="rotate(0 318.5 141)" fill="#b8121c"/>
<path d="M311,126 Q313,135 315,145" stroke="#b8121c" stroke-width="6.0" fill="none" stroke-linecap="round"/>
<path d="M308,128 Q311,127 314,128" stroke="#b8121c" stroke-width="4.7" fill="none" stroke-linecap="round"/>
<ellipse cx="343" cy="130" rx="2.7" ry="3.7" transform="rotate(0 343 130)" fill="#b8121c"/>
<ellipse cx="347.5" cy="136" rx="2.5" ry="3.7" transform="rotate(0 347.5 136)" fill="#b8121c"/>
<path d="M333,130 L338,141" stroke="#b8121c" stroke-width="2.5" fill="none" stroke-linecap="round"/>
<ellipse cx="322" cy="158.5" rx="6.5" ry="6.0" transform="rotate(0 322 158.5)" fill="#b8121c"/>
<path d="M328,149 Q329.5,146 330,143" stroke="#b8121c" stroke-width="4.7" fill="none" stroke-linecap="round"/>
<path d="M324,153 L328,149" stroke="#b8121c" stroke-width="5.2" fill="none" stroke-linecap="round"/>
<path d="M327,162 Q336,165 344,167 Q352,170 360,176" stroke="#b8121c" stroke-width="8.2" fill="none" stroke-linecap="round"/>
<ellipse cx="336" cy="165" rx="6.5" ry="4.5" transform="rotate(20 336 165)" fill="#b8121c"/>
<path d="M309,143 L314,148" stroke="#b8121c" stroke-width="5.2" fill="none" stroke-linecap="round"/>
<path d="M349,151 Q355,153 360,155" stroke="#b8121c" stroke-width="5.2" fill="none" stroke-linecap="round"/>
<path d="M330,170 L332,180" stroke="#b8121c" stroke-width="4.3" fill="none" stroke-linecap="round"/>
<path d="M308,178 L315,181" stroke="#b8121c" stroke-width="5.6" fill="none" stroke-linecap="round"/>
<path d="M316,145 Q318,150 320,155" stroke="#b8121c" stroke-width="3.4" fill="none" stroke-linecap="round"/>
<path d="M368,110 L374,114" stroke="#b8121c" stroke-width="6.5" fill="none" stroke-linecap="round"/>
<path d="M372,112 L375,119" stroke="#b8121c" stroke-width="6.0" fill="none" stroke-linecap="round"/>
<path d="M376,117 L378,124" stroke="#b8121c" stroke-width="5.2" fill="none" stroke-linecap="round"/>
<path d="M378,110 L384.5,114" stroke="#b8121c" stroke-width="6.0" fill="none" stroke-linecap="round"/>
<path d="M386.5,121 Q395,118 405,120" stroke="#b8121c" stroke-width="4.7" fill="none" stroke-linecap="round"/>
<ellipse cx="402" cy="121" rx="4.5" ry="4.0" transform="rotate(0 402 121)" fill="#b8121c"/>
<path d="M398.7,112 L406,116" stroke="#b8121c" stroke-width="5.6" fill="none" stroke-linecap="round"/>
<path d="M405,123 Q408,128 410,132" stroke="#b8121c" stroke-width="5.6" fill="none" stroke-linecap="round"/>
<ellipse cx="411" cy="134.5" rx="4.5" ry="5.0" transform="rotate(0 411 134.5)" fill="#b8121c"/>
<path d="M378,128 L382.4,133.5" stroke="#b8121c" stroke-width="4.7" fill="none" stroke-linecap="round"/>
<ellipse cx="368" cy="137.5" rx="5.5" ry="6.0" transform="rotate(0 368 137.5)" fill="#b8121c"/>
<path d="M366,138.5 Q368,142 372,145" stroke="#b8121c" stroke-width="6.9" fill="none" stroke-linecap="round"/>
<path d="M375,126 L379,128" stroke="#b8121c" stroke-width="3.4" fill="none" stroke-linecap="round"/>
<path d="M358,149 L364,153" stroke="#b8121c" stroke-width="7.8" fill="none" stroke-linecap="round"/>
<ellipse cx="361" cy="150.5" rx="4.5" ry="4.5" transform="rotate(0 361 150.5)" fill="#b8121c"/>
<path d="M364,151 Q371,157 378.4,162.3" stroke="#b8121c" stroke-width="5.2" fill="none" stroke-linecap="round"/>
<path d="M358,161 Q367,163 376.3,165.4" stroke="#b8121c" stroke-width="3.6" fill="none" stroke-linecap="round"/>
<ellipse cx="392" cy="163" rx="7.5" ry="4.0" transform="rotate(0 392 163)" fill="#b8121c"/>
<path d="M386.5,166.4 L390.6,169.5" stroke="#b8121c" stroke-width="5.6" fill="none" stroke-linecap="round"/>
<path d="M401,155 Q401.5,164 402.5,172.5" stroke="#b8121c" stroke-width="5.6" fill="none" stroke-linecap="round"/>
<ellipse cx="402.5" cy="171" rx="3.0" ry="3.5" transform="rotate(0 402.5 171)" fill="#b8121c"/>
<path d="M402.8,145 L409,155.2" stroke="#b8121c" stroke-width="3.6" fill="none" stroke-linecap="round"/>
<path d="M358,172.5 Q364,176 371,181" stroke="#b8121c" stroke-width="6.5" fill="none" stroke-linecap="round"/>
<path d="M358,178 L366,176" stroke="#b8121c" stroke-width="4.7" fill="none" stroke-linecap="round"/>
<path d="M366,143 L369,147" stroke="#b8121c" stroke-width="5.2" fill="none" stroke-linecap="round"/>
</g>
<g filter="url(#bl)">
<ellipse cx="329" cy="130" rx="1.8" ry="7.5" transform="rotate(0 329 130)" fill="#ff1c1c"/>
<path d="M329,121 L329.5,139" stroke="#ff1c1c" stroke-width="1.2" fill="none" stroke-linecap="round"/>
<ellipse cx="313.5" cy="136" rx="2.6" ry="9" transform="rotate(0 313.5 136)" fill="#ff1c1c"/>
<ellipse cx="318.5" cy="141" rx="2" ry="5" transform="rotate(0 318.5 141)" fill="#ff1c1c"/>
<path d="M311,126 Q313,135 315,145" stroke="#ff1c1c" stroke-width="2.2" fill="none" stroke-linecap="round"/>
<path d="M308,128 Q311,127 314,128" stroke="#ff1c1c" stroke-width="1.6" fill="none" stroke-linecap="round"/>
<ellipse cx="343" cy="130" rx="1.2" ry="2.2" transform="rotate(0 343 130)" fill="#ff1c1c"/>
<ellipse cx="347.5" cy="136" rx="1" ry="2.2" transform="rotate(0 347.5 136)" fill="#ff1c1c"/>
<path d="M333,130 L338,141" stroke="#ff1c1c" stroke-width="0.6" fill="none" stroke-linecap="round"/>
<ellipse cx="322" cy="158.5" rx="5" ry="4.5" transform="rotate(0 322 158.5)" fill="#ff1c1c"/>
<path d="M328,149 Q329.5,146 330,143" stroke="#ff1c1c" stroke-width="1.6" fill="none" stroke-linecap="round"/>
<path d="M324,153 L328,149" stroke="#ff1c1c" stroke-width="1.8" fill="none" stroke-linecap="round"/>
<path d="M327,162 Q336,165 344,167 Q352,170 360,176" stroke="#ff1c1c" stroke-width="3.2" fill="none" stroke-linecap="round"/>
<ellipse cx="336" cy="165" rx="5" ry="3" transform="rotate(20 336 165)" fill="#ff1c1c"/>
<path d="M309,143 L314,148" stroke="#ff1c1c" stroke-width="1.8" fill="none" stroke-linecap="round"/>
<path d="M349,151 Q355,153 360,155" stroke="#ff1c1c" stroke-width="1.8" fill="none" stroke-linecap="round"/>
<path d="M330,170 L332,180" stroke="#ff1c1c" stroke-width="1.4" fill="none" stroke-linecap="round"/>
<path d="M308,178 L315,181" stroke="#ff1c1c" stroke-width="2" fill="none" stroke-linecap="round"/>
<path d="M316,145 Q318,150 320,155" stroke="#ff1c1c" stroke-width="1.0" fill="none" stroke-linecap="round"/>
<path d="M368,110 L374,114" stroke="#ff1c1c" stroke-width="2.4" fill="none" stroke-linecap="round"/>
<path d="M372,112 L375,119" stroke="#ff1c1c" stroke-width="2.2" fill="none" stroke-linecap="round"/>
<path d="M376,117 L378,124" stroke="#ff1c1c" stroke-width="1.8" fill="none" stroke-linecap="round"/>
<path d="M378,110 L384.5,114" stroke="#ff1c1c" stroke-width="2.2" fill="none" stroke-linecap="round"/>
<path d="M386.5,121 Q395,118 405,120" stroke="#ff1c1c" stroke-width="1.6" fill="none" stroke-linecap="round"/>
<ellipse cx="402" cy="121" rx="3" ry="2.5" transform="rotate(0 402 121)" fill="#ff1c1c"/>
<path d="M398.7,112 L406,116" stroke="#ff1c1c" stroke-width="2" fill="none" stroke-linecap="round"/>
<path d="M405,123 Q408,128 410,132" stroke="#ff1c1c" stroke-width="2" fill="none" stroke-linecap="round"/>
<ellipse cx="411" cy="134.5" rx="3" ry="3.5" transform="rotate(0 411 134.5)" fill="#ff1c1c"/>
<path d="M378,128 L382.4,133.5" stroke="#ff1c1c" stroke-width="1.6" fill="none" stroke-linecap="round"/>
<ellipse cx="368" cy="137.5" rx="4" ry="4.5" transform="rotate(0 368 137.5)" fill="#ff1c1c"/>
<path d="M366,138.5 Q368,142 372,145" stroke="#ff1c1c" stroke-width="2.6" fill="none" stroke-linecap="round"/>
<path d="M375,126 L379,128" stroke="#ff1c1c" stroke-width="1" fill="none" stroke-linecap="round"/>
<path d="M358,149 L364,153" stroke="#ff1c1c" stroke-width="3" fill="none" stroke-linecap="round"/>
<ellipse cx="361" cy="150.5" rx="3" ry="3" transform="rotate(0 361 150.5)" fill="#ff1c1c"/>
<path d="M364,151 Q371,157 378.4,162.3" stroke="#ff1c1c" stroke-width="1.8" fill="none" stroke-linecap="round"/>
<path d="M358,161 Q367,163 376.3,165.4" stroke="#ff1c1c" stroke-width="1.1" fill="none" stroke-linecap="round"/>
<ellipse cx="392" cy="163" rx="6" ry="2.5" transform="rotate(0 392 163)" fill="#ff1c1c"/>
<path d="M386.5,166.4 L390.6,169.5" stroke="#ff1c1c" stroke-width="2" fill="none" stroke-linecap="round"/>
<path d="M401,155 Q401.5,164 402.5,172.5" stroke="#ff1c1c" stroke-width="2" fill="none" stroke-linecap="round"/>
<ellipse cx="402.5" cy="171" rx="1.5" ry="2" transform="rotate(0 402.5 171)" fill="#ff1c1c"/>
<path d="M402.8,145 L409,155.2" stroke="#ff1c1c" stroke-width="1.1" fill="none" stroke-linecap="round"/>
<path d="M358,172.5 Q364,176 371,181" stroke="#ff1c1c" stroke-width="2.4" fill="none" stroke-linecap="round"/>
<path d="M358,178 L366,176" stroke="#ff1c1c" stroke-width="1.6" fill="none" stroke-linecap="round"/>
<path d="M366,143 L369,147" stroke="#ff1c1c" stroke-width="1.8" fill="none" stroke-linecap="round"/>
</g>
<g filter="url(#bl)" opacity="0.9">
<ellipse cx="322.5" cy="125.5" rx="3.29" ry="3.66" transform="rotate(0 322.5 125.5)" fill="#1616ff"/>
<ellipse cx="335" cy="124" rx="3.66" ry="4.27" transform="rotate(0 335 124)" fill="#1616ff"/>
<ellipse cx="312" cy="130.5" rx="3.66" ry="2.44" transform="rotate(0 312 130.5)" fill="#1616ff"/>
<ellipse cx="345" cy="129.5" rx="2.81" ry="4.03" transform="rotate(0 345 129.5)" fill="#1616ff"/>
<ellipse cx="349.5" cy="136.5" rx="2.44" ry="3.66" transform="rotate(0 349.5 136.5)" fill="#1616ff"/>
<ellipse cx="357" cy="133" rx="2.2" ry="3.66" transform="rotate(0 357 133)" fill="#1616ff"/>
<ellipse cx="326.5" cy="141" rx="3.05" ry="3.66" transform="rotate(0 326.5 141)" fill="#1616ff"/>
<ellipse cx="336" cy="142" rx="3.17" ry="3.66" transform="rotate(0 336 142)" fill="#1616ff"/>
<ellipse cx="307" cy="142" rx="3.05" ry="3.66" transform="rotate(0 307 142)" fill="#1616ff"/>
<ellipse cx="354" cy="142" rx="3.05" ry="3.66" transform="rotate(0 354 142)" fill="#1616ff"/>
<ellipse cx="323.5" cy="148.5" rx="3.05" ry="3.9" transform="rotate(0 323.5 148.5)" fill="#1616ff"/>
<ellipse cx="335" cy="144.5" rx="3.05" ry="3.05" transform="rotate(0 335 144.5)" fill="#1616ff"/>
<ellipse cx="353" cy="146" rx="3.05" ry="3.05" transform="rotate(0 353 146)" fill="#1616ff"/>
<ellipse cx="312" cy="158" rx="3.29" ry="3.9" transform="rotate(0 312 158)" fill="#1616ff"/>
<ellipse cx="323.5" cy="159" rx="3.05" ry="3.29" transform="rotate(0 323.5 159)" fill="#3a1ef6"/>
<ellipse cx="333.5" cy="157.5" rx="3.05" ry="3.66" transform="rotate(0 333.5 157.5)" fill="#3a1ef6"/>
<ellipse cx="344" cy="152" rx="3.05" ry="3.29" transform="rotate(0 344 152)" fill="#1616ff"/>
<ellipse cx="352" cy="158" rx="3.05" ry="3.66" transform="rotate(0 352 158)" fill="#1616ff"/>
<ellipse cx="357" cy="156" rx="2.44" ry="3.66" transform="rotate(0 357 156)" fill="#1616ff"/>
<ellipse cx="308" cy="164.5" rx="3.05" ry="3.66" transform="rotate(0 308 164.5)" fill="#1616ff"/>
<ellipse cx="316" cy="170" rx="3.66" ry="2.68" transform="rotate(0 316 170)" fill="#1616ff"/>
<ellipse cx="329.5" cy="169.5" rx="2.68" ry="3.66" transform="rotate(0 329.5 169.5)" fill="#1616ff"/>
<ellipse cx="340.5" cy="164" rx="3.17" ry="3.17" transform="rotate(0 340.5 164)" fill="#1616ff"/>
<ellipse cx="347" cy="165.5" rx="3.05" ry="3.29" transform="rotate(0 347 165.5)" fill="#1616ff"/>
<ellipse cx="346" cy="172" rx="3.05" ry="3.05" transform="rotate(0 346 172)" fill="#1616ff"/>
<ellipse cx="316.5" cy="178" rx="3.42" ry="2.68" transform="rotate(0 316.5 178)" fill="#1616ff"/>
<ellipse cx="325.5" cy="177" rx="3.42" ry="2.68" transform="rotate(0 325.5 177)" fill="#1616ff"/>
<ellipse cx="339" cy="179" rx="3.42" ry="2.68" transform="rotate(0 339 179)" fill="#1616ff"/>
<ellipse cx="350" cy="178.5" rx="3.42" ry="2.68" transform="rotate(0 350 178.5)" fill="#1616ff"/>
<ellipse cx="370.2" cy="115.1" rx="3.42" ry="3.66" transform="rotate(0 370.2 115.1)" fill="#1616ff"/>
<ellipse cx="388" cy="113" rx="3.66" ry="3.05" transform="rotate(0 388 113)" fill="#1616ff"/>
<ellipse cx="399.8" cy="116.1" rx="3.66" ry="2.44" transform="rotate(0 399.8 116.1)" fill="#1616ff"/>
<ellipse cx="412" cy="114.1" rx="3.05" ry="3.05" transform="rotate(0 412 114.1)" fill="#1616ff"/>
<ellipse cx="392.6" cy="119.7" rx="3.66" ry="2.44" transform="rotate(0 392.6 119.7)" fill="#1616ff"/>
<ellipse cx="400.3" cy="122.8" rx="3.42" ry="2.81" transform="rotate(0 400.3 122.8)" fill="#7428ec"/>
<ellipse cx="387" cy="124.8" rx="3.05" ry="2.81" transform="rotate(0 387 124.8)" fill="#3a1ef6"/>
<ellipse cx="371.2" cy="128.4" rx="3.05" ry="3.66" transform="rotate(0 371.2 128.4)" fill="#1616ff"/>
<ellipse cx="390.6" cy="129.4" rx="3.05" ry="3.42" transform="rotate(0 390.6 129.4)" fill="#1616ff"/>
<ellipse cx="410.4" cy="122.8" rx="2.44" ry="3.66" transform="rotate(0 410.4 122.8)" fill="#1616ff"/>
<ellipse cx="399.8" cy="131.4" rx="2.81" ry="3.42" transform="rotate(0 399.8 131.4)" fill="#1616ff"/>
<ellipse cx="362" cy="132.4" rx="3.05" ry="3.42" transform="rotate(0 362 132.4)" fill="#1616ff"/>
<ellipse cx="367.7" cy="135.5" rx="3.05" ry="3.42" transform="rotate(0 367.7 135.5)" fill="#3a1ef6"/>
<ellipse cx="375.8" cy="134" rx="3.05" ry="3.66" transform="rotate(0 375.8 134)" fill="#1616ff"/>
<ellipse cx="382.4" cy="138" rx="2.81" ry="3.05" transform="rotate(0 382.4 138)" fill="#1616ff"/>
<ellipse cx="389.6" cy="139.6" rx="3.05" ry="3.05" transform="rotate(0 389.6 139.6)" fill="#1616ff"/>
<ellipse cx="398.2" cy="140.6" rx="3.05" ry="3.05" transform="rotate(0 398.2 140.6)" fill="#1616ff"/>
<ellipse cx="411" cy="134.5" rx="2.81" ry="3.42" transform="rotate(0 411 134.5)" fill="#3a1ef6"/>
<ellipse cx="403.8" cy="135.5" rx="2.81" ry="3.05" transform="rotate(0 403.8 135.5)" fill="#1616ff"/>
<ellipse cx="358.5" cy="132.4" rx="2.44" ry="3.05" transform="rotate(0 358.5 132.4)" fill="#1616ff"/>
<ellipse cx="362.6" cy="147.6" rx="3.66" ry="3.05" transform="rotate(0 362.6 147.6)" fill="#1616ff"/>
<ellipse cx="374.3" cy="146.6" rx="2.44" ry="3.66" transform="rotate(0 374.3 146.6)" fill="#1616ff"/>
<ellipse cx="391.6" cy="144" rx="3.05" ry="2.44" transform="rotate(0 391.6 144)" fill="#1616ff"/>
<ellipse cx="401.8" cy="146" rx="3.05" ry="3.05" transform="rotate(0 401.8 146)" fill="#1616ff"/>
<ellipse cx="411" cy="146" rx="3.05" ry="3.05" transform="rotate(0 411 146)" fill="#1616ff"/>
<ellipse cx="392.6" cy="152.2" rx="3.66" ry="2.81" transform="rotate(0 392.6 152.2)" fill="#1616ff"/>
<ellipse cx="383" cy="158.3" rx="3.66" ry="2.44" transform="rotate(0 383 158.3)" fill="#1616ff"/>
<ellipse cx="395.2" cy="157.8" rx="3.05" ry="3.05" transform="rotate(0 395.2 157.8)" fill="#1616ff"/>
<ellipse cx="405.4" cy="157.3" rx="2.81" ry="3.66" transform="rotate(0 405.4 157.3)" fill="#1616ff"/>
<ellipse cx="359" cy="156.2" rx="2.44" ry="3.05" transform="rotate(0 359 156.2)" fill="#1616ff"/>
<ellipse cx="388.5" cy="164.4" rx="3.66" ry="2.44" transform="rotate(0 388.5 164.4)" fill="#3a1ef6"/>
<ellipse cx="408" cy="169" rx="3.66" ry="2.44" transform="rotate(0 408 169)" fill="#1616ff"/>
<ellipse cx="376.3" cy="172" rx="4.27" ry="2.44" transform="rotate(0 376.3 172)" fill="#1616ff"/>
<ellipse cx="393.6" cy="172.5" rx="3.66" ry="2.81" transform="rotate(0 393.6 172.5)" fill="#1616ff"/>
<ellipse cx="360.5" cy="168.5" rx="3.05" ry="3.66" transform="rotate(0 360.5 168.5)" fill="#1616ff"/>
<ellipse cx="361" cy="173.5" rx="3.05" ry="3.05" transform="rotate(0 361 173.5)" fill="#1616ff"/>
<ellipse cx="378.4" cy="178" rx="3.05" ry="2.44" transform="rotate(0 378.4 178)" fill="#1616ff"/>
<ellipse cx="412" cy="171.5" rx="2.44" ry="3.05" transform="rotate(0 412 171.5)" fill="#1616ff"/>
</g>
<text x="309.0" y="120.6" font-size="12.1" font-weight="bold" fill="#ff1414" textLength="29.0" lengthAdjust="spacingAndGlyphs">GFAP</text>
<text x="337.6" y="121.4" font-size="13.2" font-weight="bold" fill="#ffffff" stroke="#ffffff" stroke-width="0.5">/</text>
<text x="343.3" y="120.6" font-size="12.1" font-weight="bold" fill="#1e9ae8" textLength="23.2" lengthAdjust="spacingAndGlyphs">Hoe</text>
<rect x="379.3" y="176.1" width="31.7" height="1.9" fill="#fff"/>
</g>
<clipPath id="cbr"><rect x="417.4" y="108.7" width="109.4" height="72.0"/></clipPath>
<g clip-path="url(#cbr)">
<rect x="417.4" y="108.7" width="109.4" height="72.0" fill="#07010a"/>
<g filter="url(#haze)">
<ellipse cx="450" cy="131" rx="8" ry="3" transform="rotate(0 450 131)" fill="#c0141c" opacity="0.5"/>
<ellipse cx="520" cy="122" rx="6" ry="10" transform="rotate(0 520 122)" fill="#c0141c" opacity="0.5"/>
<ellipse cx="490" cy="128" rx="14" ry="5" transform="rotate(-35 490 128)" fill="#c0141c" opacity="0.35"/>
<ellipse cx="480" cy="168" rx="8" ry="4" transform="rotate(-20 480 168)" fill="#c0141c" opacity="0.5"/>
<ellipse cx="518" cy="162" rx="7" ry="8" transform="rotate(0 518 162)" fill="#c0141c" opacity="0.45"/>
</g>
<g filter="url(#glow)" opacity="0.4">
<path d="M431,123.3 Q452,124 474,125.3" stroke="#b8121c" stroke-width="3.0" fill="none" stroke-linecap="round"/>
<ellipse cx="450" cy="130.5" rx="8.5" ry="3.5" transform="rotate(5 450 130.5)" fill="#b8121c"/>
<path d="M449,126 Q456,127 459,128" stroke="#b8121c" stroke-width="3.4" fill="none" stroke-linecap="round"/>
<path d="M467,123.3 L474,121.2" stroke="#b8121c" stroke-width="3.4" fill="none" stroke-linecap="round"/>
<path d="M472,125.3 Q488,118 502.5,109" stroke="#b8121c" stroke-width="4.7" fill="none" stroke-linecap="round"/>
<path d="M477,142.6 Q492,128 505.6,117.2 Q512,112 517,108" stroke="#b8121c" stroke-width="5.2" fill="none" stroke-linecap="round"/>
<path d="M487.3,135.5 Q502,125 515.8,117.2" stroke="#b8121c" stroke-width="4.3" fill="none" stroke-linecap="round"/>
<path d="M480,133 Q494,124 508,115" stroke="#b8121c" stroke-width="3.2" fill="none" stroke-linecap="round"/>
<ellipse cx="518.4" cy="128.8" rx="4.1" ry="4.1" transform="rotate(0 518.4 128.8)" fill="#b8121c"/>
<path d="M452.6,165.4 Q462,158 473,149.1" stroke="#b8121c" stroke-width="3.2" fill="none" stroke-linecap="round"/>
<path d="M454.7,154.2 L463.8,148.1" stroke="#b8121c" stroke-width="3.2" fill="none" stroke-linecap="round"/>
<path d="M418,162.3 L423,160.3" stroke="#b8121c" stroke-width="3.8" fill="none" stroke-linecap="round"/>
<path d="M474,160.3 Q484,157 491.3,152.2 Q492,148 491.3,145" stroke="#b8121c" stroke-width="3.2" fill="none" stroke-linecap="round"/>
<path d="M472,148.1 L476,143" stroke="#b8121c" stroke-width="3.2" fill="none" stroke-linecap="round"/>
<path d="M472,173.5 Q476,170 480,168.5 Q484,166 488.3,165.4" stroke="#b8121c" stroke-width="6.0" fill="none" stroke-linecap="round"/>
<path d="M492.4,169.5 Q500,165 507.6,161.3 Q514,158 520.9,156.2 Q524,155 527,153.2" stroke="#b8121c" stroke-width="3.8" fill="none" stroke-linecap="round"/>
<ellipse cx="516.8" cy="166.4" rx="4.0" ry="4.0" transform="rotate(0 516.8 166.4)" fill="#b8121c"/>
<path d="M465.4,163.5 Q470,168 475.5,173.6" stroke="#b8121c" stroke-width="3.4" fill="none" stroke-linecap="round"/>
</g>
<g filter="url(#bl)">
<path d="M431,123.3 Q452,124 474,125.3" stroke="#ff1c1c" stroke-width="0.8" fill="none" stroke-linecap="round"/>
<ellipse cx="450" cy="130.5" rx="7" ry="2" transform="rotate(5 450 130.5)" fill="#ff1c1c"/>
<path d="M449,126 Q456,127 459,128" stroke="#ff1c1c" stroke-width="1.0" fill="none" stroke-linecap="round"/>
<path d="M467,123.3 L474,121.2" stroke="#ff1c1c" stroke-width="1.0" fill="none" stroke-linecap="round"/>
<path d="M472,125.3 Q488,118 502.5,109" stroke="#ff1c1c" stroke-width="1.6" fill="none" stroke-linecap="round"/>
<path d="M477,142.6 Q492,128 505.6,117.2 Q512,112 517,108" stroke="#ff1c1c" stroke-width="1.8" fill="none" stroke-linecap="round"/>
<path d="M487.3,135.5 Q502,125 515.8,117.2" stroke="#ff1c1c" stroke-width="1.4" fill="none" stroke-linecap="round"/>
<path d="M480,133 Q494,124 508,115" stroke="#ff1c1c" stroke-width="0.9" fill="none" stroke-linecap="round"/>
<ellipse cx="522" cy="121" rx="5.5" ry="9.5" transform="rotate(0 522 121)" fill="#c83ce0"/>
<ellipse cx="518.4" cy="128.8" rx="2.6" ry="2.6" transform="rotate(0 518.4 128.8)" fill="#ff1c1c"/>
<path d="M452.6,165.4 Q462,158 473,149.1" stroke="#ff1c1c" stroke-width="0.9" fill="none" stroke-linecap="round"/>
<path d="M454.7,154.2 L463.8,148.1" stroke="#ff1c1c" stroke-width="0.9" fill="none" stroke-linecap="round"/>
<path d="M418,162.3 L423,160.3" stroke="#ff1c1c" stroke-width="1.2" fill="none" stroke-linecap="round"/>
<path d="M474,160.3 Q484,157 491.3,152.2 Q492,148 491.3,145" stroke="#ff1c1c" stroke-width="0.9" fill="none" stroke-linecap="round"/>
<path d="M472,148.1 L476,143" stroke="#ff1c1c" stroke-width="0.9" fill="none" stroke-linecap="round"/>
<path d="M472,173.5 Q476,170 480,168.5 Q484,166 488.3,165.4" stroke="#ff1c1c" stroke-width="2.2" fill="none" stroke-linecap="round"/>
<path d="M492.4,169.5 Q500,165 507.6,161.3 Q514,158 520.9,156.2 Q524,155 527,153.2" stroke="#ff1c1c" stroke-width="1.2" fill="none" stroke-linecap="round"/>
<ellipse cx="522" cy="162" rx="5" ry="8" transform="rotate(0 522 162)" fill="#b838d8"/>
<ellipse cx="516.8" cy="166.4" rx="2.5" ry="2.5" transform="rotate(0 516.8 166.4)" fill="#ff1c1c"/>
<path d="M465.4,163.5 Q470,168 475.5,173.6" stroke="#ff1c1c" stroke-width="1.0" fill="none" stroke-linecap="round"/>
</g>
<g filter="url(#bl)" opacity="0.9">
<ellipse cx="434.8" cy="126.3" rx="5.0" ry="3.12" transform="rotate(0 434.8 126.3)" fill="#1616ff"/>
<ellipse cx="450.6" cy="123.3" rx="3.75" ry="3.12" transform="rotate(0 450.6 123.3)" fill="#1616ff"/>
<ellipse cx="459.8" cy="127.3" rx="3.75" ry="3.12" transform="rotate(0 459.8 127.3)" fill="#3a1ef6"/>
<ellipse cx="463.8" cy="131.4" rx="3.75" ry="3.12" transform="rotate(0 463.8 131.4)" fill="#1616ff"/>
<ellipse cx="451.6" cy="134" rx="3.75" ry="3.12" transform="rotate(0 451.6 134)" fill="#3a1ef6"/>
<ellipse cx="444" cy="139.6" rx="3.75" ry="3.75" transform="rotate(0 444 139.6)" fill="#3a1ef6"/>
<ellipse cx="471" cy="133.5" rx="3.12" ry="3.75" transform="rotate(0 471 133.5)" fill="#1616ff"/>
<ellipse cx="470" cy="140.6" rx="3.75" ry="3.75" transform="rotate(0 470 140.6)" fill="#7428ec"/>
<ellipse cx="456.7" cy="111" rx="3.75" ry="2.5" transform="rotate(0 456.7 111)" fill="#1616ff"/>
<ellipse cx="429.2" cy="149.6" rx="4.38" ry="3.12" transform="rotate(0 429.2 149.6)" fill="#1616ff"/>
<ellipse cx="437.3" cy="148.1" rx="3.12" ry="4.38" transform="rotate(0 437.3 148.1)" fill="#1616ff"/>
<ellipse cx="456.7" cy="146" rx="3.75" ry="3.75" transform="rotate(0 456.7 146)" fill="#1616ff"/>
<ellipse cx="464.8" cy="149.6" rx="3.75" ry="3.75" transform="rotate(0 464.8 149.6)" fill="#1616ff"/>
<ellipse cx="452.6" cy="154.7" rx="4.38" ry="3.12" transform="rotate(0 452.6 154.7)" fill="#1616ff"/>
<ellipse cx="427.7" cy="157.8" rx="4.38" ry="3.12" transform="rotate(0 427.7 157.8)" fill="#1616ff"/>
<ellipse cx="434.8" cy="156.2" rx="3.75" ry="3.12" transform="rotate(0 434.8 156.2)" fill="#1616ff"/>
<ellipse cx="443.5" cy="158.3" rx="4.38" ry="3.12" transform="rotate(0 443.5 158.3)" fill="#1616ff"/>
<ellipse cx="456.7" cy="160.3" rx="4.38" ry="3.12" transform="rotate(0 456.7 160.3)" fill="#1616ff"/>
<ellipse cx="420" cy="164.4" rx="2.5" ry="3.75" transform="rotate(0 420 164.4)" fill="#1616ff"/>
<ellipse cx="428.2" cy="164.4" rx="4.38" ry="2.5" transform="rotate(0 428.2 164.4)" fill="#1616ff"/>
<ellipse cx="436.8" cy="165.9" rx="4.38" ry="3.12" transform="rotate(0 436.8 165.9)" fill="#1616ff"/>
<ellipse cx="451.6" cy="166.9" rx="3.12" ry="3.12" transform="rotate(0 451.6 166.9)" fill="#7428ec"/>
<ellipse cx="459.8" cy="169.5" rx="4.38" ry="3.12" transform="rotate(0 459.8 169.5)" fill="#1616ff"/>
<ellipse cx="464.8" cy="164.4" rx="3.75" ry="2.5" transform="rotate(0 464.8 164.4)" fill="#1616ff"/>
<ellipse cx="471" cy="162.3" rx="3.75" ry="3.12" transform="rotate(0 471 162.3)" fill="#1616ff"/>
<ellipse cx="438.4" cy="172" rx="5.0" ry="3.12" transform="rotate(0 438.4 172)" fill="#1616ff"/>
<ellipse cx="447" cy="174.6" rx="4.38" ry="3.12" transform="rotate(0 447 174.6)" fill="#1616ff"/>
<ellipse cx="465.9" cy="173.5" rx="3.75" ry="3.12" transform="rotate(0 465.9 173.5)" fill="#1616ff"/>
<ellipse cx="420" cy="153.2" rx="3.12" ry="3.12" transform="rotate(0 420 153.2)" fill="#7428ec"/>
<ellipse cx="470" cy="145" rx="3.12" ry="3.12" transform="rotate(0 470 145)" fill="#7428ec"/>
<ellipse cx="495.4" cy="111" rx="3.75" ry="3.12" transform="rotate(0 495.4 111)" fill="#1616ff"/>
<ellipse cx="503.6" cy="113.6" rx="3.75" ry="3.12" transform="rotate(0 503.6 113.6)" fill="#1616ff"/>
<ellipse cx="514.8" cy="111" rx="3.75" ry="3.12" transform="rotate(0 514.8 111)" fill="#1616ff"/>
<ellipse cx="491.3" cy="119.2" rx="3.75" ry="3.12" transform="rotate(0 491.3 119.2)" fill="#1616ff"/>
<ellipse cx="506.6" cy="119.7" rx="3.75" ry="3.12" transform="rotate(0 506.6 119.7)" fill="#1616ff"/>
<ellipse cx="512.7" cy="119.2" rx="3.75" ry="3.12" transform="rotate(0 512.7 119.2)" fill="#3a1ef6"/>
<ellipse cx="519.9" cy="118.2" rx="3.75" ry="3.75" transform="rotate(0 519.9 118.2)" fill="#7428ec"/>
<ellipse cx="484.2" cy="129.4" rx="3.75" ry="3.12" transform="rotate(0 484.2 129.4)" fill="#1616ff"/>
<ellipse cx="492.4" cy="127.3" rx="3.75" ry="3.12" transform="rotate(0 492.4 127.3)" fill="#1616ff"/>
<ellipse cx="504.6" cy="132" rx="3.75" ry="3.12" transform="rotate(0 504.6 132)" fill="#1616ff"/>
<ellipse cx="474" cy="132.4" rx="3.75" ry="3.12" transform="rotate(0 474 132.4)" fill="#1616ff"/>
<ellipse cx="481.2" cy="137.5" rx="3.75" ry="3.12" transform="rotate(0 481.2 137.5)" fill="#3a1ef6"/>
<ellipse cx="491.3" cy="136.5" rx="3.75" ry="3.12" transform="rotate(0 491.3 136.5)" fill="#1616ff"/>
<ellipse cx="519.9" cy="139.6" rx="2.75" ry="4.38" transform="rotate(0 519.9 139.6)" fill="#1616ff"/>
<ellipse cx="524" cy="132.4" rx="3.12" ry="3.75" transform="rotate(0 524 132.4)" fill="#1616ff"/>
<ellipse cx="478.1" cy="148.6" rx="3.75" ry="3.12" transform="rotate(0 478.1 148.6)" fill="#1616ff"/>
<ellipse cx="488.3" cy="152.7" rx="3.75" ry="3.12" transform="rotate(0 488.3 152.7)" fill="#1616ff"/>
<ellipse cx="479.1" cy="157.3" rx="4.38" ry="3.12" transform="rotate(0 479.1 157.3)" fill="#1616ff"/>
<ellipse cx="511.2" cy="147.6" rx="3.75" ry="3.12" transform="rotate(0 511.2 147.6)" fill="#1616ff"/>
<ellipse cx="520.9" cy="149.1" rx="3.75" ry="3.12" transform="rotate(0 520.9 149.1)" fill="#1616ff"/>
<ellipse cx="503.6" cy="152.7" rx="3.75" ry="3.12" transform="rotate(0 503.6 152.7)" fill="#1616ff"/>
<ellipse cx="499.5" cy="158.3" rx="3.75" ry="3.12" transform="rotate(0 499.5 158.3)" fill="#1616ff"/>
<ellipse cx="507.6" cy="158.3" rx="3.75" ry="3.12" transform="rotate(0 507.6 158.3)" fill="#1616ff"/>
<ellipse cx="512.7" cy="157.3" rx="3.75" ry="3.12" transform="rotate(0 512.7 157.3)" fill="#1616ff"/>
<ellipse cx="475" cy="163.9" rx="3.75" ry="3.12" transform="rotate(0 475 163.9)" fill="#3a1ef6"/>
<ellipse cx="484.2" cy="164.9" rx="3.75" ry="3.12" transform="rotate(0 484.2 164.9)" fill="#1616ff"/>
<ellipse cx="495.4" cy="169" rx="3.75" ry="3.12" transform="rotate(0 495.4 169)" fill="#1616ff"/>
<ellipse cx="502.5" cy="166.4" rx="3.75" ry="3.12" transform="rotate(0 502.5 166.4)" fill="#1616ff"/>
<ellipse cx="508.7" cy="165.4" rx="3.75" ry="3.12" transform="rotate(0 508.7 165.4)" fill="#1616ff"/>
<ellipse cx="514.8" cy="168.5" rx="3.75" ry="3.12" transform="rotate(0 514.8 168.5)" fill="#3a1ef6"/>
<ellipse cx="520.9" cy="165.4" rx="3.75" ry="3.12" transform="rotate(0 520.9 165.4)" fill="#3a1ef6"/>
<ellipse cx="521.9" cy="158.3" rx="3.75" ry="3.12" transform="rotate(0 521.9 158.3)" fill="#3a1ef6"/>
<ellipse cx="484.2" cy="172.5" rx="3.75" ry="3.12" transform="rotate(0 484.2 172.5)" fill="#3a1ef6"/>
<ellipse cx="507.6" cy="172.5" rx="3.75" ry="3.12" transform="rotate(0 507.6 172.5)" fill="#1616ff"/>
<ellipse cx="472" cy="155.2" rx="2.5" ry="3.12" transform="rotate(0 472 155.2)" fill="#1616ff"/>
</g>
<text x="420.6" y="120.5" font-size="12.1" font-weight="bold" fill="#ff1414" textLength="38.6" lengthAdjust="spacingAndGlyphs">BIIITub</text>
<text x="459.0" y="121.3" font-size="13.2" font-weight="bold" fill="#ffffff" stroke="#ffffff" stroke-width="0.5">/</text>
<text x="464.9" y="120.5" font-size="12.1" font-weight="bold" fill="#1e9ae8" textLength="22.6" lengthAdjust="spacingAndGlyphs">Hoe</text>
<rect x="490.7" y="176.0" width="32.3" height="1.9" fill="#fff"/>
</g>
<text transform="translate(299.0,89.7) rotate(-90)" font-size="12.8" font-weight="bold" fill="#111" class="bt" textLength="41.4" lengthAdjust="spacingAndGlyphs">Control</text>
<text transform="translate(297.7,153.7) rotate(-90)" font-size="12.2" font-weight="bold" fill="#111" class="bt" textLength="21.6" lengthAdjust="spacingAndGlyphs">APP</text>
<text x="390.5" y="220.7" font-size="8.9" font-weight="bold" fill="#111" class="bt" textLength="42.6" lengthAdjust="spacingAndGlyphs">4 days diff</text>
<line x1="344.2" y1="239.6" x2="344.2" y2="333.7" stroke="#000" stroke-width="1.2"/>
<line x1="344.2" y1="333.2" x2="480" y2="333.2" stroke="#000" stroke-width="1.2"/>
<line x1="341.4" y1="240.1" x2="344.2" y2="240.1" stroke="#000" stroke-width="1.2"/>
<text x="341.0" y="242.0" font-size="6.9" font-weight="bold" fill="#111" class="bt" stroke="#111" stroke-width="0.2" text-anchor="end" textLength="6.8" lengthAdjust="spacingAndGlyphs">60</text>
<line x1="341.4" y1="271.1" x2="344.2" y2="271.1" stroke="#000" stroke-width="1.2"/>
<text x="341.0" y="273.0" font-size="6.9" font-weight="bold" fill="#111" class="bt" stroke="#111" stroke-width="0.2" text-anchor="end" textLength="6.8" lengthAdjust="spacingAndGlyphs">40</text>
<line x1="341.4" y1="302.1" x2="344.2" y2="302.1" stroke="#000" stroke-width="1.2"/>
<text x="341.0" y="304.0" font-size="6.9" font-weight="bold" fill="#111" class="bt" stroke="#111" stroke-width="0.2" text-anchor="end" textLength="6.8" lengthAdjust="spacingAndGlyphs">20</text>
<line x1="341.4" y1="333.2" x2="344.2" y2="333.2" stroke="#000" stroke-width="1.2"/>
<text x="341.0" y="335.1" font-size="6.9" font-weight="bold" fill="#111" class="bt" stroke="#111" stroke-width="0.2" text-anchor="end" textLength="3.4" lengthAdjust="spacingAndGlyphs">0</text>
<line x1="378.1" y1="333.1" x2="378.1" y2="336" stroke="#000" stroke-width="1.1"/>
<line x1="445.6" y1="333.1" x2="445.6" y2="336" stroke="#000" stroke-width="1.1"/>
<rect x="356.9" y="282.8" width="17.0" height="50.30000000000001" fill="#1e9cb8" stroke="#000" stroke-width="1.1"/>
<line x1="365.4" y1="282.8" x2="365.4" y2="280.6" stroke="#000" stroke-width="1.1"/>
<line x1="362.4" y1="280.6" x2="368.4" y2="280.6" stroke="#000" stroke-width="1.1"/>
<rect x="382.4" y="264.5" width="16.700000000000045" height="68.60000000000002" fill="#0d4f64" stroke="#000" stroke-width="1.1"/>
<line x1="390.75" y1="264.5" x2="390.75" y2="255.6" stroke="#000" stroke-width="1.1"/>
<line x1="387.75" y1="255.6" x2="393.75" y2="255.6" stroke="#000" stroke-width="1.1"/>
<rect x="425.1" y="307.1" width="16.299999999999955" height="26.0" fill="#1e9cb8" stroke="#000" stroke-width="1.1"/>
<line x1="433.25" y1="307.1" x2="433.25" y2="303.3" stroke="#000" stroke-width="1.1"/>
<line x1="430.25" y1="303.3" x2="436.25" y2="303.3" stroke="#000" stroke-width="1.1"/>
<rect x="450.5" y="305.6" width="16.5" height="27.5" fill="#0d4f64" stroke="#000" stroke-width="1.1"/>
<line x1="458.75" y1="305.6" x2="458.75" y2="302.4" stroke="#000" stroke-width="1.1"/>
<line x1="455.75" y1="302.4" x2="461.75" y2="302.4" stroke="#000" stroke-width="1.1"/>
<path d="M365.5,243.4 V239.6 H391.2 V243.4" stroke="#000" stroke-width="1.2" fill="none"/>
<text x="378.2" y="239.9" font-size="9.6" font-weight="bold" fill="#111" class="bt" text-anchor="middle">**</text>
<text x="378.1" y="344.6" font-size="7.9" font-weight="bold" fill="#111" class="bt" text-anchor="middle" textLength="19.6" lengthAdjust="spacingAndGlyphs">GFAP</text>
<text x="445.7" y="344.4" font-size="7.9" font-weight="bold" fill="#111" class="bt" text-anchor="middle" textLength="24.1" lengthAdjust="spacingAndGlyphs">BIIITub</text>
<text transform="translate(329.3,323.4) rotate(-90)" font-size="8.7" font-weight="bold" fill="#111" class="bt" textLength="72.5" lengthAdjust="spacingAndGlyphs">Positive cells (%)</text>
<rect x="462.2" y="243.6" width="10.5" height="5.2" fill="#1e9cb8" stroke="#000" stroke-width="1"/>
<rect x="462.2" y="256.4" width="10.5" height="5.2" fill="#0d4f64" stroke="#000" stroke-width="1"/>
<text x="477.4" y="249.1" font-size="8.3" font-weight="bold" fill="#111" class="bt" textLength="26.3" lengthAdjust="spacingAndGlyphs">Control</text>
<text x="477.4" y="261.9" font-size="8.3" font-weight="bold" fill="#111" class="bt" textLength="14.6" lengthAdjust="spacingAndGlyphs">APP</text>
<text x="391.9" y="377.7" font-size="9.3" font-weight="bold" fill="#111" class="bt" textLength="45.6" lengthAdjust="spacingAndGlyphs">4 days diff</text>
<line x1="344.2" y1="399.8" x2="344.2" y2="497.2" stroke="#000" stroke-width="1.2"/>
<line x1="344.2" y1="496.6" x2="490.3" y2="496.6" stroke="#000" stroke-width="1.2"/>
<line x1="341.4" y1="400.3" x2="344.2" y2="400.3" stroke="#000" stroke-width="1.2"/>
<text x="340.2" y="402.5" font-size="6.9" font-weight="bold" fill="#111" class="bt" stroke="#111" stroke-width="0.2" text-anchor="end">2.0</text>
<line x1="341.4" y1="424.4" x2="344.2" y2="424.4" stroke="#000" stroke-width="1.2"/>
<text x="340.2" y="426.6" font-size="6.9" font-weight="bold" fill="#111" class="bt" stroke="#111" stroke-width="0.2" text-anchor="end">1.5</text>
<line x1="341.4" y1="448.5" x2="344.2" y2="448.5" stroke="#000" stroke-width="1.2"/>
<text x="340.2" y="450.7" font-size="6.9" font-weight="bold" fill="#111" class="bt" stroke="#111" stroke-width="0.2" text-anchor="end">1.0</text>
<line x1="341.4" y1="472.6" x2="344.2" y2="472.6" stroke="#000" stroke-width="1.2"/>
<text x="340.2" y="474.8" font-size="6.9" font-weight="bold" fill="#111" class="bt" stroke="#111" stroke-width="0.2" text-anchor="end">0.5</text>
<line x1="341.4" y1="496.6" x2="344.2" y2="496.6" stroke="#000" stroke-width="1.2"/>
<text x="340.2" y="498.8" font-size="6.9" font-weight="bold" fill="#111" class="bt" stroke="#111" stroke-width="0.2" text-anchor="end">0.0</text>
<line x1="368.5" y1="496.7" x2="368.5" y2="499.5" stroke="#000" stroke-width="1.1"/>
<line x1="417.5" y1="496.7" x2="417.5" y2="499.5" stroke="#000" stroke-width="1.1"/>
<line x1="466.3" y1="496.7" x2="466.3" y2="499.5" stroke="#000" stroke-width="1.1"/>
<rect x="353.9" y="448.6" width="11.200000000000045" height="48.099999999999966" fill="#1e9cb8" stroke="#000" stroke-width="1.1"/>
<line x1="359.5" y1="448.6" x2="359.5" y2="446.8" stroke="#000" stroke-width="1.1"/>
<line x1="356.5" y1="446.8" x2="362.5" y2="446.8" stroke="#000" stroke-width="1.1"/>
<rect x="372.3" y="422.4" width="11.0" height="74.30000000000001" fill="#0d4f64" stroke="#000" stroke-width="1.1"/>
<line x1="377.8" y1="422.4" x2="377.8" y2="412.3" stroke="#000" stroke-width="1.1"/>
<line x1="374.8" y1="412.3" x2="380.8" y2="412.3" stroke="#000" stroke-width="1.1"/>
<rect x="402.8" y="448.6" width="10.699999999999989" height="48.099999999999966" fill="#1e9cb8" stroke="#000" stroke-width="1.1"/>
<line x1="408.15" y1="448.6" x2="408.15" y2="447.6" stroke="#000" stroke-width="1.1"/>
<line x1="405.15" y1="447.6" x2="411.15" y2="447.6" stroke="#000" stroke-width="1.1"/>
<rect x="421.3" y="435" width="10.5" height="61.69999999999999" fill="#0d4f64" stroke="#000" stroke-width="1.1"/>
<line x1="426.55" y1="435" x2="426.55" y2="423.4" stroke="#000" stroke-width="1.1"/>
<line x1="423.55" y1="423.4" x2="429.55" y2="423.4" stroke="#000" stroke-width="1.1"/>
<rect x="451.5" y="449.1" width="10.300000000000011" height="47.599999999999966" fill="#1e9cb8" stroke="#000" stroke-width="1.1"/>
<line x1="456.65" y1="449.1" x2="456.65" y2="447" stroke="#000" stroke-width="1.1"/>
<line x1="453.65" y1="447" x2="459.65" y2="447" stroke="#000" stroke-width="1.1"/>
<rect x="469.9" y="465.1" width="10.200000000000045" height="31.599999999999966" fill="#0d4f64" stroke="#000" stroke-width="1.1"/>
<line x1="475.0" y1="465.1" x2="475.0" y2="459.2" stroke="#000" stroke-width="1.1"/>
<line x1="472.0" y1="459.2" x2="478.0" y2="459.2" stroke="#000" stroke-width="1.1"/>
<line x1="393.2" y1="400" x2="393.2" y2="496" stroke="#777" stroke-width="0.9" stroke-dasharray="2.2,1.8"/>
<line x1="441.3" y1="400" x2="441.3" y2="496" stroke="#777" stroke-width="0.9" stroke-dasharray="2.2,1.8"/>
<path d="M357.6,404.4 V400.6 H377.6 V404.4" stroke="#000" stroke-width="1.2" fill="none"/>
<text x="367.6" y="401.1" font-size="9.6" font-weight="bold" fill="#111" class="bt" text-anchor="middle">**</text>
<path d="M407,404.4 V400.6 H427.2 V404.4" stroke="#000" stroke-width="1.2" fill="none"/>
<text x="417.1" y="401.1" font-size="9.6" font-weight="bold" fill="#111" class="bt" text-anchor="middle">*</text>
<path d="M458.2,404.4 V400.6 H478.2 V404.4" stroke="#000" stroke-width="1.2" fill="none"/>
<text x="468.2" y="401.1" font-size="9.6" font-weight="bold" fill="#111" class="bt" text-anchor="middle">**</text>
<text x="368.3" y="508.2" font-size="8.6" font-weight="bold" font-style="italic" fill="#111" text-anchor="middle" textLength="22.1" lengthAdjust="spacingAndGlyphs">GFAP</text>
<text x="416.4" y="508.2" font-size="8.6" font-weight="bold" font-style="italic" fill="#111" text-anchor="middle" textLength="24.1" lengthAdjust="spacingAndGlyphs">S100B</text>
<text x="465.9" y="508.2" font-size="8.6" font-weight="bold" font-style="italic" fill="#111" text-anchor="middle" textLength="26.2" lengthAdjust="spacingAndGlyphs">TUBB3</text>
<text transform="translate(324.8,500.4) rotate(-90)" font-size="8.7" font-weight="bold" fill="#111" class="bt" textLength="105.3" lengthAdjust="spacingAndGlyphs">Relative levels of mRNA</text>
<rect x="500.6" y="404.6" width="9.8" height="4.6" fill="#1e9cb8" stroke="#000" stroke-width="1"/>
<rect x="500.6" y="418" width="9.8" height="4.6" fill="#0d4f64" stroke="#000" stroke-width="1"/>
<text x="516.5" y="409.7" font-size="8.3" font-weight="bold" fill="#111" class="bt" textLength="28.1" lengthAdjust="spacingAndGlyphs">Control</text>
<text x="516.5" y="423.1" font-size="8.3" font-weight="bold" fill="#111" class="bt" textLength="15.3" lengthAdjust="spacingAndGlyphs">APP</text>
</svg></body></html>
